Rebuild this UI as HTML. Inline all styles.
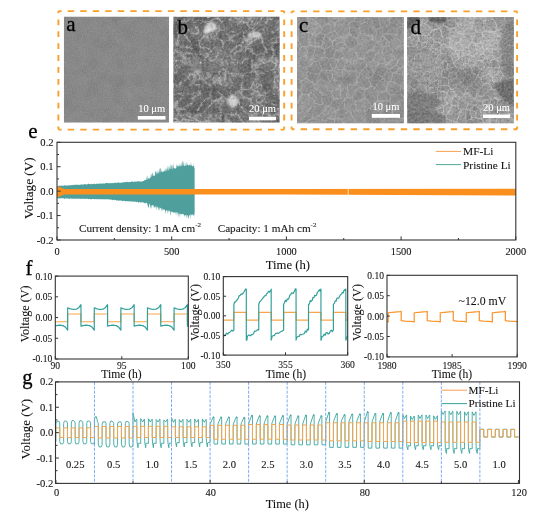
<!DOCTYPE html>
<html><head><meta charset="utf-8"><style>
html,body{margin:0;padding:0;background:#fff;overflow:hidden;}
svg{display:block;font-family:"Liberation Serif", "Times New Roman", serif;}
text{stroke:currentColor;stroke-width:0.08px;paint-order:stroke;stroke-linejoin:round;}
</style></head><body>
<svg width="550" height="518" viewBox="0 0 550 518">
<defs><clipPath id="clipa"><rect x="63.8" y="16.5" width="105.3" height="106.2"/></clipPath><clipPath id="clipb"><rect x="173.2" y="16.5" width="106.6" height="106.2"/></clipPath><clipPath id="clipc"><rect x="297.0" y="17.0" width="106.8" height="106.3"/></clipPath><clipPath id="clipd"><rect x="407.1" y="17.0" width="106.7" height="106.3"/></clipPath><filter id="blur1" x="-50%" y="-50%" width="200%" height="200%"><feGaussianBlur stdDeviation="1"/></filter><filter id="blur2" x="-50%" y="-50%" width="200%" height="200%"><feGaussianBlur stdDeviation="2"/></filter><filter id="blur3" x="-50%" y="-50%" width="200%" height="200%"><feGaussianBlur stdDeviation="3"/></filter><filter id="blur6" x="-50%" y="-50%" width="200%" height="200%"><feGaussianBlur stdDeviation="6"/></filter><filter id="na" x="0" y="0" width="1" height="1" color-interpolation-filters="sRGB"><feTurbulence type="fractalNoise" baseFrequency="0.8" numOctaves="2" seed="3" result="t"/><feColorMatrix in="t" type="matrix" values="0 0 0 0 0  0 0 0 0 0  0 0 0 0 0  -0.64 0 0 0 0.32" result="dark"/><feColorMatrix in="t" type="matrix" values="0 0 0 0 1  0 0 0 0 1  0 0 0 0 1  0.64 0 0 0 -0.32" result="light"/><feMerge><feMergeNode in="dark"/><feMergeNode in="light"/></feMerge></filter><filter id="nb" x="0" y="0" width="1" height="1" color-interpolation-filters="sRGB"><feTurbulence type="fractalNoise" baseFrequency="0.45" numOctaves="3" seed="5" result="t"/><feColorMatrix in="t" type="matrix" values="0 0 0 0 0  0 0 0 0 0  0 0 0 0 0  -1.6 0 0 0 0.8" result="dark"/><feColorMatrix in="t" type="matrix" values="0 0 0 0 1  0 0 0 0 1  0 0 0 0 1  1.6 0 0 0 -0.8" result="light"/><feMerge><feMergeNode in="dark"/><feMergeNode in="light"/></feMerge></filter><filter id="nc" x="0" y="0" width="1" height="1" color-interpolation-filters="sRGB"><feTurbulence type="fractalNoise" baseFrequency="0.5" numOctaves="3" seed="9" result="t"/><feColorMatrix in="t" type="matrix" values="0 0 0 0 0  0 0 0 0 0  0 0 0 0 0  -1.04 0 0 0 0.52" result="dark"/><feColorMatrix in="t" type="matrix" values="0 0 0 0 1  0 0 0 0 1  0 0 0 0 1  1.04 0 0 0 -0.52" result="light"/><feMerge><feMergeNode in="dark"/><feMergeNode in="light"/></feMerge></filter><filter id="nd" x="0" y="0" width="1" height="1" color-interpolation-filters="sRGB"><feTurbulence type="fractalNoise" baseFrequency="0.45" numOctaves="3" seed="11" result="t"/><feColorMatrix in="t" type="matrix" values="0 0 0 0 0  0 0 0 0 0  0 0 0 0 0  -1.2 0 0 0 0.6" result="dark"/><feColorMatrix in="t" type="matrix" values="0 0 0 0 1  0 0 0 0 1  0 0 0 0 1  1.2 0 0 0 -0.6" result="light"/><feMerge><feMergeNode in="dark"/><feMergeNode in="light"/></feMerge></filter><filter id="vb" x="0" y="0" width="1" height="1" color-interpolation-filters="sRGB"><feTurbulence type="turbulence" baseFrequency="0.095" numOctaves="3" seed="21" result="t0"/><feTurbulence type="fractalNoise" baseFrequency="0.043" numOctaves="2" seed="28" result="dm"/><feDisplacementMap in="t0" in2="dm" scale="9" xChannelSelector="R" yChannelSelector="G" result="t"/><feColorMatrix in="t" type="matrix" values="0 0 0 0 1  0 0 0 0 1  0 0 0 0 1  -2.8 0 0 0 1" result="l"/><feComponentTransfer in="l"><feFuncA type="gamma" amplitude="1" exponent="1.6" offset="0"/></feComponentTransfer></filter><filter id="mb" x="0" y="0" width="1" height="1" color-interpolation-filters="sRGB"><feTurbulence type="fractalNoise" baseFrequency="0.07" numOctaves="3" seed="31" result="t"/><feColorMatrix in="t" type="matrix" values="0 0 0 0 0  0 0 0 0 0  0 0 0 0 0  -2.0 0 0 0 1.0" result="dark"/><feColorMatrix in="t" type="matrix" values="0 0 0 0 1  0 0 0 0 1  0 0 0 0 1  2.0 0 0 0 -1.0" result="light"/><feMerge><feMergeNode in="dark"/><feMergeNode in="light"/></feMerge></filter><filter id="mc" x="0" y="0" width="1" height="1" color-interpolation-filters="sRGB"><feTurbulence type="fractalNoise" baseFrequency="0.06" numOctaves="3" seed="33" result="t"/><feColorMatrix in="t" type="matrix" values="0 0 0 0 0  0 0 0 0 0  0 0 0 0 0  -1.2 0 0 0 0.6" result="dark"/><feColorMatrix in="t" type="matrix" values="0 0 0 0 1  0 0 0 0 1  0 0 0 0 1  1.2 0 0 0 -0.6" result="light"/><feMerge><feMergeNode in="dark"/><feMergeNode in="light"/></feMerge></filter><filter id="md" x="0" y="0" width="1" height="1" color-interpolation-filters="sRGB"><feTurbulence type="fractalNoise" baseFrequency="0.05" numOctaves="3" seed="35" result="t"/><feColorMatrix in="t" type="matrix" values="0 0 0 0 0  0 0 0 0 0  0 0 0 0 0  -1.6 0 0 0 0.8" result="dark"/><feColorMatrix in="t" type="matrix" values="0 0 0 0 1  0 0 0 0 1  0 0 0 0 1  1.6 0 0 0 -0.8" result="light"/><feMerge><feMergeNode in="dark"/><feMergeNode in="light"/></feMerge></filter><filter id="ma" x="0" y="0" width="1" height="1" color-interpolation-filters="sRGB"><feTurbulence type="fractalNoise" baseFrequency="0.08" numOctaves="3" seed="37" result="t"/><feColorMatrix in="t" type="matrix" values="0 0 0 0 0  0 0 0 0 0  0 0 0 0 0  -0.8 0 0 0 0.4" result="dark"/><feColorMatrix in="t" type="matrix" values="0 0 0 0 1  0 0 0 0 1  0 0 0 0 1  0.8 0 0 0 -0.4" result="light"/><feMerge><feMergeNode in="dark"/><feMergeNode in="light"/></feMerge></filter><filter id="vc" x="0" y="0" width="1" height="1" color-interpolation-filters="sRGB"><feTurbulence type="turbulence" baseFrequency="0.083" numOctaves="2" seed="9" result="t0"/><feTurbulence type="fractalNoise" baseFrequency="0.043" numOctaves="2" seed="16" result="dm"/><feDisplacementMap in="t0" in2="dm" scale="9" xChannelSelector="R" yChannelSelector="G" result="t"/><feColorMatrix in="t" type="matrix" values="0 0 0 0 1  0 0 0 0 1  0 0 0 0 1  -3.0 0 0 0 1" result="l"/><feComponentTransfer in="l"><feFuncA type="gamma" amplitude="1" exponent="1.8" offset="0"/></feComponentTransfer></filter><filter id="vd" x="0" y="0" width="1" height="1" color-interpolation-filters="sRGB"><feTurbulence type="turbulence" baseFrequency="0.117" numOctaves="3" seed="13" result="t0"/><feTurbulence type="fractalNoise" baseFrequency="0.043" numOctaves="2" seed="20" result="dm"/><feDisplacementMap in="t0" in2="dm" scale="9" xChannelSelector="R" yChannelSelector="G" result="t"/><feColorMatrix in="t" type="matrix" values="0 0 0 0 1  0 0 0 0 1  0 0 0 0 1  -2.8 0 0 0 1" result="l"/><feComponentTransfer in="l"><feFuncA type="gamma" amplitude="1" exponent="1.9" offset="0"/></feComponentTransfer></filter><filter id="blur05" x="-5%" y="-5%" width="110%" height="110%"><feTurbulence type="fractalNoise" baseFrequency="0.09" numOctaves="2" seed="3" result="n"/><feDisplacementMap in="SourceGraphic" in2="n" scale="5" xChannelSelector="R" yChannelSelector="G" result="d"/><feGaussianBlur in="d" stdDeviation="0.6"/></filter><clipPath id="cf1"><rect x="55.3" y="276.1" width="133.0" height="82.89999999999998"/></clipPath><clipPath id="cf2"><rect x="223.3" y="276.6" width="124.39999999999998" height="78.5"/></clipPath><clipPath id="cf3"><rect x="387.0" y="275.3" width="130.20000000000005" height="81.59999999999997"/></clipPath><clipPath id="cg"><rect x="55.5" y="381.9" width="464.0" height="101.5"/></clipPath></defs>
<g clip-path="url(#clipa)">
<rect x="63.8" y="16.5" width="105.3" height="106.2" fill="#898989"/>

<rect x="63.8" y="16.5" width="105.3" height="106.2" filter="url(#ma)" opacity="0.15"/>

<rect x="63.8" y="16.5" width="105.3" height="106.2" filter="url(#na)" opacity="0.35"/>
</g>
<g clip-path="url(#clipb)">
<rect x="173.2" y="16.5" width="106.6" height="106.2" fill="#6e6e6e"/>

<rect x="173.2" y="16.5" width="106.6" height="106.2" filter="url(#mb)" opacity="0.25"/>
<rect x="173.2" y="16.5" width="106.6" height="106.2" filter="url(#vb)" opacity="0.5"/>
<ellipse cx="211" cy="27" rx="6" ry="5" fill="#e8e8e8" opacity="0.8" filter="url(#blur1)"/><ellipse cx="207" cy="31" rx="3" ry="3" fill="#ffffff" opacity="0.6" filter="url(#blur1)"/><ellipse cx="254" cy="35" rx="7" ry="3.5" fill="#e4e4e4" opacity="0.75" filter="url(#blur1)"/><ellipse cx="248" cy="40" rx="4" ry="2.5" fill="#dddddd" opacity="0.6" filter="url(#blur1)"/><ellipse cx="233" cy="101" rx="5.5" ry="6" fill="#e8e8e8" opacity="0.8" filter="url(#blur1)"/><ellipse cx="198" cy="72" rx="4" ry="3" fill="#d0d0d0" opacity="0.5" filter="url(#blur1)"/><ellipse cx="262" cy="60" rx="4" ry="3" fill="#d0d0d0" opacity="0.45" filter="url(#blur1)"/><ellipse cx="222" cy="62" rx="14" ry="10" fill="#a8a8a8" opacity="0.3" filter="url(#blur3)"/><ellipse cx="190" cy="95" rx="12" ry="14" fill="#505050" opacity="0.25" filter="url(#blur6)"/>
<rect x="173.2" y="16.5" width="106.6" height="106.2" filter="url(#nb)" opacity="0.32"/>
</g>
<g clip-path="url(#clipc)">
<rect x="297" y="17" width="106.8" height="106.3" fill="#8e8e8e"/>
<g filter="url(#blur05)"><path d="M391.76 54.51 L384.61 55.44 L383.52 63.18 L385.97 65.29 L394.45 58.69Z" fill="#949494" stroke="#a8a8a8" stroke-width="0.8" stroke-linejoin="round"/><path d="M386.6 90.12 L388.57 82.05 L391.22 81.22 L401.08 84.98 L400.28 90.6 L390.97 94.57Z" fill="#909090" stroke="#a8a8a8" stroke-width="0.8" stroke-linejoin="round"/><path d="M348.17 112.95 L351.93 113.12 L355.76 109.78 L355.3 101.22 L352.27 97.95 L348.37 97.08 L344.12 98.57 L343.16 107.66Z" fill="#949494" stroke="#a8a8a8" stroke-width="0.8" stroke-linejoin="round"/><path d="M310.81 132.5 L284.03 184.68 L280.25 201.54 L295.16 207.37 L322.06 139.26 L317.51 135.65Z" fill="#8e8e8e" stroke="#a8a8a8" stroke-width="0.8" stroke-linejoin="round"/><path d="M281.58 70.83 L287.77 61.8 L287.69 60.04 L279.35 39.1 L235.48 48.71 L277.33 74.1Z" fill="#939393" stroke="#a8a8a8" stroke-width="0.8" stroke-linejoin="round"/><path d="M338.44 88.52 L343.29 98.16 L333.35 99.47 L330.01 91.6Z" fill="#909090" stroke="#a8a8a8" stroke-width="0.8" stroke-linejoin="round"/><path d="M344.8 55.67 L351.31 49.21 L344.6 44.19 L340.54 50.89Z" fill="#909090" stroke="#a8a8a8" stroke-width="0.8" stroke-linejoin="round"/><path d="M282.17 116.68 L193.53 180.44 L206.98 96.08 L270.97 96.43Z" fill="#949494" stroke="#a8a8a8" stroke-width="0.8" stroke-linejoin="round"/><path d="M282.53 11.23 L228.92 9.89 L229.68 47.51 L235.48 48.71 L279.35 39.1 L283.31 32.07Z" fill="#8e8e8e" stroke="#a8a8a8" stroke-width="0.8" stroke-linejoin="round"/><path d="M479.87 214.8 L698.12 241.62 L689.24 86.83 L544.56 46.99 L489.33 113.07Z" fill="#919191" stroke="#a8a8a8" stroke-width="0.8" stroke-linejoin="round"/><path d="M360.64 73.47 L368.79 78.95 L375.51 73.04 L374.75 70.45 L366.42 66.58Z" fill="#8e8e8e" stroke="#a8a8a8" stroke-width="0.8" stroke-linejoin="round"/><path d="M309.97 94.31 L314.01 103.86 L321.65 103.27 L322.83 93.02 L314 90.27Z" fill="#8f8f8f" stroke="#a8a8a8" stroke-width="0.8" stroke-linejoin="round"/><path d="M332.69 78.05 L341.12 82.45 L343.18 81.78 L342.4 68.91 L337.19 67.69 L332.45 69.63 L331.55 70.77Z" fill="#939393" stroke="#a8a8a8" stroke-width="0.8" stroke-linejoin="round"/><path d="M418.34 43.27 L421.06 18.49 L515.69 26.62 L430.75 56.95Z" fill="#909090" stroke="#a8a8a8" stroke-width="0.8" stroke-linejoin="round"/><path d="M404.92 67.76 L401.95 76.1 L396.88 72.87 L398.58 67.25Z" fill="#939393" stroke="#a8a8a8" stroke-width="0.8" stroke-linejoin="round"/><path d="M486.43 -76.41 L455.84 -142.2 L323.91 -113.27 L366.46 -64.39 L437.42 -56.67Z" fill="#8d8d8d" stroke="#a8a8a8" stroke-width="0.8" stroke-linejoin="round"/><path d="M331.47 22.02 L335.04 23.31 L344 19.44 L337.75 -14.25 L330.47 -13.07 L325.03 11.46Z" fill="#949494" stroke="#a8a8a8" stroke-width="0.8" stroke-linejoin="round"/><path d="M355.53 83.74 L358.85 73.68 L355.73 71.39 L351.9 72.14 L343.75 81.85 L348.5 84.51Z" fill="#949494" stroke="#a8a8a8" stroke-width="0.8" stroke-linejoin="round"/><path d="M366.42 66.58 L366.29 61.76 L374.69 60.08 L377.81 63.66 L374.75 70.45Z" fill="#929292" stroke="#a8a8a8" stroke-width="0.8" stroke-linejoin="round"/><path d="M289.74 120.13 L287.39 118.41 L282.17 116.68 L193.53 180.44 L193.07 181.67 L200.18 193.81 L280.25 201.54 L284.03 184.68Z" fill="#8e8e8e" stroke="#a8a8a8" stroke-width="0.8" stroke-linejoin="round"/><path d="M323.91 -113.27 L455.84 -142.2 L448.96 -293.5 L311.94 -285.09 L293.33 -129.02Z" fill="#929292" stroke="#a8a8a8" stroke-width="0.8" stroke-linejoin="round"/><path d="M322.03 70.03 L331.55 70.77 L332.69 78.05 L326.5 83.29 L319.95 80 L319.15 73.88Z" fill="#8e8e8e" stroke="#a8a8a8" stroke-width="0.8" stroke-linejoin="round"/><path d="M398.58 67.25 L396.59 64.81 L389.24 69.4 L392.98 73.44 L396.88 72.87Z" fill="#8f8f8f" stroke="#a8a8a8" stroke-width="0.8" stroke-linejoin="round"/><path d="M300.55 90.69 L276.17 82.82 L277.33 74.1 L281.58 70.83 L302.92 80.81Z" fill="#8d8d8d" stroke="#a8a8a8" stroke-width="0.8" stroke-linejoin="round"/><path d="M378.44 91.25 L375.27 87.48 L369.76 86.1 L365.15 89.49 L366.02 98.57 L372.3 105.13 L373.24 105.14 L377.37 100.93Z" fill="#8d8d8d" stroke="#a8a8a8" stroke-width="0.8" stroke-linejoin="round"/><path d="M401.95 76.1 L404.35 81.85 L401.08 84.98 L391.22 81.22 L392.98 73.44 L396.88 72.87Z" fill="#8e8e8e" stroke="#a8a8a8" stroke-width="0.8" stroke-linejoin="round"/><path d="M319.15 73.88 L308.66 72.39 L306 79.45 L313.79 84.71 L319.95 80Z" fill="#8e8e8e" stroke="#a8a8a8" stroke-width="0.8" stroke-linejoin="round"/><path d="M404.92 67.76 L407.07 66.36 L403.19 57.71 L396.57 59.78 L396.59 64.81 L398.58 67.25Z" fill="#939393" stroke="#a8a8a8" stroke-width="0.8" stroke-linejoin="round"/><path d="M400.28 90.6 L405.05 97.47 L429.95 108.37 L440.36 102.66 L427.97 78.86 L404.35 81.85 L401.08 84.98Z" fill="#8e8e8e" stroke="#a8a8a8" stroke-width="0.8" stroke-linejoin="round"/><path d="M229.68 47.51 L228.92 9.89 L187.08 -73.65 L174.88 -74.74 L148.15 -53.22 L126.99 38.27 L204.36 81.37Z" fill="#939393" stroke="#a8a8a8" stroke-width="0.8" stroke-linejoin="round"/><path d="M368.79 78.95 L369.76 86.1 L375.27 87.48 L382.32 78.52 L381.32 75.69 L375.51 73.04Z" fill="#8d8d8d" stroke="#a8a8a8" stroke-width="0.8" stroke-linejoin="round"/><path d="M193.53 180.44 L206.98 96.08 L204.36 81.37 L126.99 38.27 L16.94 134.48 L193.07 181.67Z" fill="#8d8d8d" stroke="#a8a8a8" stroke-width="0.8" stroke-linejoin="round"/><path d="M361.43 32.77 L356.44 38.14 L348.47 34.79 L348.47 21.48 L353.11 20.48 L360.64 23.75Z" fill="#8d8d8d" stroke="#a8a8a8" stroke-width="0.8" stroke-linejoin="round"/><path d="M375.98 397.48 L628.95 557.33 L350.4 3579.65 L64.39 517.92 L158.53 453.83Z" fill="#949494" stroke="#a8a8a8" stroke-width="0.8" stroke-linejoin="round"/><path d="M301.95 93.96 L287.39 118.41 L289.74 120.13 L299.54 122.04 L314.01 103.86 L309.97 94.31Z" fill="#939393" stroke="#a8a8a8" stroke-width="0.8" stroke-linejoin="round"/><path d="M322.06 139.26 L330.49 140.24 L337.44 143.47 L347.06 205.54 L339.87 233.04 L295.16 207.37Z" fill="#8d8d8d" stroke="#a8a8a8" stroke-width="0.8" stroke-linejoin="round"/><path d="M389.33 45.14 L389.71 41.97 L396.41 36.28 L408.59 44.94 L393.35 49.21Z" fill="#949494" stroke="#a8a8a8" stroke-width="0.8" stroke-linejoin="round"/><path d="M322.03 70.03 L318.91 61.46 L324.83 56.84 L328.39 57.91 L332.45 69.63 L331.55 70.77Z" fill="#8e8e8e" stroke="#a8a8a8" stroke-width="0.8" stroke-linejoin="round"/><path d="M306.71 32.7 L297.81 36.52 L300.64 45.84 L305.93 47.15 L309.45 45.46Z" fill="#8f8f8f" stroke="#a8a8a8" stroke-width="0.8" stroke-linejoin="round"/><path d="M363.2 -13 L383.13 -5.24 L414.01 -9.94 L437.42 -56.67 L366.46 -64.39 L354.71 -22.81Z" fill="#919191" stroke="#a8a8a8" stroke-width="0.8" stroke-linejoin="round"/><path d="M80.65 -432.77 L350.4 -3024.29 L641.19 -408.2 L448.96 -293.5 L311.94 -285.09Z" fill="#8e8e8e" stroke="#a8a8a8" stroke-width="0.8" stroke-linejoin="round"/><path d="M389.33 45.14 L389.71 41.97 L383.61 36.38 L377.97 41.22 L383.17 47.17Z" fill="#949494" stroke="#a8a8a8" stroke-width="0.8" stroke-linejoin="round"/><path d="M321.65 103.27 L325.6 106.28 L323.42 113.88 L301.41 123.13 L299.54 122.04 L314.01 103.86Z" fill="#8f8f8f" stroke="#a8a8a8" stroke-width="0.8" stroke-linejoin="round"/><path d="M325.95 36.53 L320.75 32.13 L321.57 27.73 L331.47 22.02 L335.04 23.31 L334.96 29.91 L326.88 36.61Z" fill="#919191" stroke="#a8a8a8" stroke-width="0.8" stroke-linejoin="round"/><path d="M378.44 91.25 L386.6 90.12 L390.97 94.57 L389.64 101.05 L377.37 100.93Z" fill="#919191" stroke="#a8a8a8" stroke-width="0.8" stroke-linejoin="round"/><path d="M343.86 42.34 L344.6 44.19 L351.31 49.21 L354.33 49.15 L358.01 43.93 L356.44 38.14 L348.47 34.79 L344.13 37.86Z" fill="#8f8f8f" stroke="#a8a8a8" stroke-width="0.8" stroke-linejoin="round"/><path d="M353.11 20.48 L363.21 -3.11 L363.2 -13 L354.71 -22.81 L337.75 -14.25 L344 19.44 L348.47 21.48Z" fill="#929292" stroke="#a8a8a8" stroke-width="0.8" stroke-linejoin="round"/><path d="M320.75 32.13 L315.9 34.53 L306.94 32.46 L306.89 18.01 L313.36 18.48 L321.57 27.73Z" fill="#949494" stroke="#a8a8a8" stroke-width="0.8" stroke-linejoin="round"/><path d="M300.55 90.69 L276.17 82.82 L270.97 96.43 L282.17 116.68 L287.39 118.41 L301.95 93.96Z" fill="#919191" stroke="#a8a8a8" stroke-width="0.8" stroke-linejoin="round"/><path d="M404.92 67.76 L407.07 66.36 L427.38 71.19 L427.97 78.86 L404.35 81.85 L401.95 76.1Z" fill="#8d8d8d" stroke="#a8a8a8" stroke-width="0.8" stroke-linejoin="round"/><path d="M302.92 80.81 L281.58 70.83 L287.77 61.8 L288.67 61.85 L307.6 69.31 L308.66 72.39 L306 79.45Z" fill="#939393" stroke="#a8a8a8" stroke-width="0.8" stroke-linejoin="round"/><path d="M394.45 58.69 L396.57 59.78 L396.59 64.81 L389.24 69.4 L387.27 68.72 L385.97 65.29Z" fill="#929292" stroke="#a8a8a8" stroke-width="0.8" stroke-linejoin="round"/><path d="M332.26 41.67 L339.18 36.02 L344.13 37.86 L343.86 42.34 L333.38 46.23 L332.7 45.72Z" fill="#909090" stroke="#a8a8a8" stroke-width="0.8" stroke-linejoin="round"/><path d="M427.38 71.19 L430.75 56.95 L515.69 26.62 L527.56 24.98 L544.56 46.99 L489.33 113.07 L440.36 102.66 L427.97 78.86Z" fill="#929292" stroke="#a8a8a8" stroke-width="0.8" stroke-linejoin="round"/><path d="M334.97 119.43 L330.49 140.24 L337.44 143.47 L350.26 136.3 L341.97 120.16Z" fill="#8f8f8f" stroke="#a8a8a8" stroke-width="0.8" stroke-linejoin="round"/><path d="M395.63 33.95 L396.04 30.6 L413.41 14.29 L416.7 12.94 L421.06 18.49 L418.34 43.27 L410.27 45.32 L408.59 44.94 L396.41 36.28Z" fill="#8f8f8f" stroke="#a8a8a8" stroke-width="0.8" stroke-linejoin="round"/><path d="M352.27 97.95 L355.3 101.22 L366.02 98.57 L365.15 89.49 L359.6 88.28Z" fill="#919191" stroke="#a8a8a8" stroke-width="0.8" stroke-linejoin="round"/><path d="M325.95 36.53 L320.75 32.13 L315.9 34.53 L316.06 46.08 L321.1 46.95Z" fill="#8d8d8d" stroke="#a8a8a8" stroke-width="0.8" stroke-linejoin="round"/><path d="M370.9 35.93 L371.51 38.01 L376.32 41.18 L377.97 41.22 L383.61 36.38 L384.13 33.72 L382.45 28.7 L380.74 27.78 L373.6 30.06Z" fill="#919191" stroke="#a8a8a8" stroke-width="0.8" stroke-linejoin="round"/><path d="M371.51 38.01 L364.68 45.11 L368.11 50.95 L372.9 51.15 L376.32 41.18Z" fill="#8e8e8e" stroke="#a8a8a8" stroke-width="0.8" stroke-linejoin="round"/><path d="M373.6 30.06 L380.74 27.78 L378.88 17.27 L370.14 16.69 L366.93 21.47Z" fill="#8f8f8f" stroke="#a8a8a8" stroke-width="0.8" stroke-linejoin="round"/><path d="M341.97 120.16 L350.26 136.3 L360.34 134.86 L351.93 113.12 L348.17 112.95Z" fill="#949494" stroke="#a8a8a8" stroke-width="0.8" stroke-linejoin="round"/><path d="M321.1 46.95 L316.06 46.08 L315.59 46.3 L312.4 58.65 L313.65 60.42 L318.91 61.46 L324.83 56.84 L323.59 49.11Z" fill="#919191" stroke="#a8a8a8" stroke-width="0.8" stroke-linejoin="round"/><path d="M370.9 35.93 L361.43 32.77 L360.64 23.75 L366.93 21.47 L373.6 30.06Z" fill="#8e8e8e" stroke="#a8a8a8" stroke-width="0.8" stroke-linejoin="round"/><path d="M255.95 -97.27 L187.08 -73.65 L174.88 -74.74 L37.36 -374.61 L80.65 -432.77 L311.94 -285.09 L293.33 -129.02Z" fill="#929292" stroke="#a8a8a8" stroke-width="0.8" stroke-linejoin="round"/><path d="M370.14 16.69 L378.88 17.27 L384.42 12.73 L383.13 -5.24 L363.2 -13 L363.21 -3.11Z" fill="#949494" stroke="#a8a8a8" stroke-width="0.8" stroke-linejoin="round"/><path d="M370.9 35.93 L371.51 38.01 L364.68 45.11 L358.01 43.93 L356.44 38.14 L361.43 32.77Z" fill="#949494" stroke="#a8a8a8" stroke-width="0.8" stroke-linejoin="round"/><path d="M338.14 59.5 L337.19 67.69 L332.45 69.63 L328.39 57.91 L333.66 56.06Z" fill="#939393" stroke="#a8a8a8" stroke-width="0.8" stroke-linejoin="round"/><path d="M378.44 91.25 L375.27 87.48 L382.32 78.52 L388.57 82.05 L386.6 90.12Z" fill="#8f8f8f" stroke="#a8a8a8" stroke-width="0.8" stroke-linejoin="round"/><path d="M280.25 201.54 L200.18 193.81 L158.53 453.83 L375.98 397.48 L389.38 304.76 L339.87 233.04 L295.16 207.37Z" fill="#919191" stroke="#a8a8a8" stroke-width="0.8" stroke-linejoin="round"/><path d="M334.97 119.43 L341.97 120.16 L348.17 112.95 L343.16 107.66 L334.97 109.65 L334.88 119.33Z" fill="#919191" stroke="#a8a8a8" stroke-width="0.8" stroke-linejoin="round"/><path d="M383.61 36.38 L389.71 41.97 L396.41 36.28 L395.63 33.95 L384.13 33.72Z" fill="#8d8d8d" stroke="#a8a8a8" stroke-width="0.8" stroke-linejoin="round"/><path d="M332.69 78.05 L341.12 82.45 L338.44 88.52 L330.01 91.6 L327.15 90.31 L326.5 83.29Z" fill="#929292" stroke="#a8a8a8" stroke-width="0.8" stroke-linejoin="round"/><path d="M379.23 149.14 L410.06 151.79 L468.71 220.86 L389.38 304.76 L339.87 233.04 L347.06 205.54Z" fill="#919191" stroke="#a8a8a8" stroke-width="0.8" stroke-linejoin="round"/><path d="M360.64 23.75 L353.11 20.48 L363.21 -3.11 L370.14 16.69 L366.93 21.47Z" fill="#919191" stroke="#a8a8a8" stroke-width="0.8" stroke-linejoin="round"/><path d="M429.95 108.37 L440.36 102.66 L489.33 113.07 L479.87 214.8 L468.71 220.86 L410.06 151.79 L416.27 122.52Z" fill="#929292" stroke="#a8a8a8" stroke-width="0.8" stroke-linejoin="round"/><path d="M689.24 86.83 L865.43 -178.19 L3439.04 70.15 L773.85 387.79 L698.12 241.62Z" fill="#8d8d8d" stroke="#a8a8a8" stroke-width="0.8" stroke-linejoin="round"/><path d="M377.37 100.93 L373.24 105.14 L384.47 119.32 L393.58 114.85 L393.13 106.72 L389.64 101.05Z" fill="#8e8e8e" stroke="#a8a8a8" stroke-width="0.8" stroke-linejoin="round"/><path d="M391.76 54.51 L393.35 49.21 L389.33 45.14 L383.17 47.17 L381.64 52.53 L384.61 55.44Z" fill="#949494" stroke="#a8a8a8" stroke-width="0.8" stroke-linejoin="round"/><path d="M300.55 90.69 L302.92 80.81 L306 79.45 L313.79 84.71 L314 90.27 L309.97 94.31 L301.95 93.96Z" fill="#8f8f8f" stroke="#a8a8a8" stroke-width="0.8" stroke-linejoin="round"/><path d="M375.51 73.04 L381.32 75.69 L387.27 68.72 L385.97 65.29 L383.52 63.18 L377.81 63.66 L374.75 70.45Z" fill="#8f8f8f" stroke="#a8a8a8" stroke-width="0.8" stroke-linejoin="round"/><path d="M389.25 25.36 L391.25 16.92 L413.41 14.29 L396.04 30.6Z" fill="#8d8d8d" stroke="#a8a8a8" stroke-width="0.8" stroke-linejoin="round"/><path d="M334.97 109.65 L329.94 105.65 L333.35 99.47 L343.29 98.16 L344.12 98.57 L343.16 107.66Z" fill="#8f8f8f" stroke="#a8a8a8" stroke-width="0.8" stroke-linejoin="round"/><path d="M360.34 134.86 L367.24 136.2 L365.4 111.24 L355.76 109.78 L351.93 113.12Z" fill="#919191" stroke="#a8a8a8" stroke-width="0.8" stroke-linejoin="round"/><path d="M343.2 68.58 L347.63 61.25 L354.15 62.01 L355.73 71.39 L351.9 72.14Z" fill="#8d8d8d" stroke="#a8a8a8" stroke-width="0.8" stroke-linejoin="round"/><path d="M403.19 57.71 L410.27 45.32 L418.34 43.27 L430.75 56.95 L427.38 71.19 L407.07 66.36Z" fill="#8f8f8f" stroke="#a8a8a8" stroke-width="0.8" stroke-linejoin="round"/><path d="M334.97 119.43 L330.49 140.24 L322.06 139.26 L317.51 135.65 L327.55 118.59 L334.88 119.33Z" fill="#8f8f8f" stroke="#a8a8a8" stroke-width="0.8" stroke-linejoin="round"/><path d="M344.8 55.67 L340.54 50.89 L335.66 50.74 L333.66 56.06 L338.14 59.5 L344.63 57.38Z" fill="#8e8e8e" stroke="#a8a8a8" stroke-width="0.8" stroke-linejoin="round"/><path d="M193.07 181.67 L16.94 134.48 L-1.3 138.04 L-150.66 340.16 L64.39 517.92 L158.53 453.83 L200.18 193.81Z" fill="#939393" stroke="#a8a8a8" stroke-width="0.8" stroke-linejoin="round"/><path d="M344.63 57.38 L347.63 61.25 L343.2 68.58 L342.4 68.91 L337.19 67.69 L338.14 59.5Z" fill="#949494" stroke="#a8a8a8" stroke-width="0.8" stroke-linejoin="round"/><path d="M368.11 50.95 L363.24 58.19 L358.1 57.71 L354.33 49.15 L358.01 43.93 L364.68 45.11Z" fill="#949494" stroke="#a8a8a8" stroke-width="0.8" stroke-linejoin="round"/><path d="M391.76 54.51 L393.35 49.21 L408.59 44.94 L410.27 45.32 L403.19 57.71 L396.57 59.78 L394.45 58.69Z" fill="#909090" stroke="#a8a8a8" stroke-width="0.8" stroke-linejoin="round"/><path d="M486.43 -76.41 L455.84 -142.2 L448.96 -293.5 L641.19 -408.2 L793.56 -229.04 L500.09 -69.26Z" fill="#8d8d8d" stroke="#a8a8a8" stroke-width="0.8" stroke-linejoin="round"/><path d="M325.95 36.53 L321.1 46.95 L323.59 49.11 L332.7 45.72 L332.26 41.67 L326.88 36.61Z" fill="#8f8f8f" stroke="#a8a8a8" stroke-width="0.8" stroke-linejoin="round"/><path d="M500.09 -69.26 L793.56 -229.04 L865.43 -178.19 L689.24 86.83 L544.56 46.99 L527.56 24.98Z" fill="#919191" stroke="#a8a8a8" stroke-width="0.8" stroke-linejoin="round"/><path d="M313.36 18.48 L325.03 11.46 L330.47 -13.07 L298.96 -19.52 L290.77 3.86 L306.89 18.01Z" fill="#909090" stroke="#a8a8a8" stroke-width="0.8" stroke-linejoin="round"/><path d="M381.32 75.69 L387.27 68.72 L389.24 69.4 L392.98 73.44 L391.22 81.22 L388.57 82.05 L382.32 78.52Z" fill="#929292" stroke="#a8a8a8" stroke-width="0.8" stroke-linejoin="round"/><path d="M312.4 58.65 L313.65 60.42 L307.6 69.31 L288.67 61.85 L306.63 56.28Z" fill="#929292" stroke="#a8a8a8" stroke-width="0.8" stroke-linejoin="round"/><path d="M337.75 -14.25 L330.47 -13.07 L298.96 -19.52 L255.95 -97.27 L293.33 -129.02 L323.91 -113.27 L366.46 -64.39 L354.71 -22.81Z" fill="#949494" stroke="#a8a8a8" stroke-width="0.8" stroke-linejoin="round"/><path d="M306.94 32.46 L306.71 32.7 L297.81 36.52 L283.31 32.07 L282.53 11.23 L290.77 3.86 L306.89 18.01Z" fill="#909090" stroke="#a8a8a8" stroke-width="0.8" stroke-linejoin="round"/><path d="M416.27 122.52 L410.06 151.79 L379.23 149.14 L373.85 139.72 L384.47 119.32 L393.58 114.85Z" fill="#8e8e8e" stroke="#a8a8a8" stroke-width="0.8" stroke-linejoin="round"/><path d="M389.25 25.36 L382.45 28.7 L380.74 27.78 L378.88 17.27 L384.42 12.73 L391.25 16.92Z" fill="#949494" stroke="#a8a8a8" stroke-width="0.8" stroke-linejoin="round"/><path d="M306.63 56.28 L288.67 61.85 L287.77 61.8 L287.69 60.04 L300.64 45.84 L305.93 47.15Z" fill="#949494" stroke="#a8a8a8" stroke-width="0.8" stroke-linejoin="round"/><path d="M350.26 136.3 L337.44 143.47 L347.06 205.54 L379.23 149.14 L373.85 139.72 L367.24 136.2 L360.34 134.86Z" fill="#8e8e8e" stroke="#a8a8a8" stroke-width="0.8" stroke-linejoin="round"/><path d="M321.57 27.73 L331.47 22.02 L325.03 11.46 L313.36 18.48Z" fill="#8e8e8e" stroke="#a8a8a8" stroke-width="0.8" stroke-linejoin="round"/><path d="M344.8 55.67 L351.31 49.21 L354.33 49.15 L358.1 57.71 L354.15 62.01 L347.63 61.25 L344.63 57.38Z" fill="#929292" stroke="#a8a8a8" stroke-width="0.8" stroke-linejoin="round"/><path d="M372.3 105.13 L365.4 111.24 L355.76 109.78 L355.3 101.22 L366.02 98.57Z" fill="#939393" stroke="#a8a8a8" stroke-width="0.8" stroke-linejoin="round"/><path d="M290.77 3.86 L298.96 -19.52 L255.95 -97.27 L187.08 -73.65 L228.92 9.89 L282.53 11.23Z" fill="#949494" stroke="#a8a8a8" stroke-width="0.8" stroke-linejoin="round"/><path d="M391.25 16.92 L384.42 12.73 L383.13 -5.24 L414.01 -9.94 L416.7 12.94 L413.41 14.29Z" fill="#8d8d8d" stroke="#a8a8a8" stroke-width="0.8" stroke-linejoin="round"/><path d="M310.81 132.5 L301.41 123.13 L323.42 113.88 L327.55 118.59 L317.51 135.65Z" fill="#8e8e8e" stroke="#a8a8a8" stroke-width="0.8" stroke-linejoin="round"/><path d="M348.37 97.08 L344.12 98.57 L343.29 98.16 L338.44 88.52 L341.12 82.45 L343.18 81.78 L343.75 81.85 L348.5 84.51Z" fill="#909090" stroke="#a8a8a8" stroke-width="0.8" stroke-linejoin="round"/><path d="M297.81 36.52 L283.31 32.07 L279.35 39.1 L287.69 60.04 L300.64 45.84Z" fill="#919191" stroke="#a8a8a8" stroke-width="0.8" stroke-linejoin="round"/><path d="M-1.3 138.04 L-150.66 340.16 L-2241.61 70.15 L-176.09 -213.63 L-50.17 -58.91Z" fill="#939393" stroke="#a8a8a8" stroke-width="0.8" stroke-linejoin="round"/><path d="M315.9 34.53 L316.06 46.08 L315.59 46.3 L309.45 45.46 L306.71 32.7 L306.94 32.46Z" fill="#919191" stroke="#a8a8a8" stroke-width="0.8" stroke-linejoin="round"/><path d="M334.88 119.33 L327.55 118.59 L323.42 113.88 L325.6 106.28 L329.94 105.65 L334.97 109.65Z" fill="#919191" stroke="#a8a8a8" stroke-width="0.8" stroke-linejoin="round"/><path d="M468.71 220.86 L389.38 304.76 L375.98 397.48 L628.95 557.33 L773.85 387.79 L698.12 241.62 L479.87 214.8Z" fill="#8e8e8e" stroke="#a8a8a8" stroke-width="0.8" stroke-linejoin="round"/><path d="M421.06 18.49 L416.7 12.94 L414.01 -9.94 L437.42 -56.67 L486.43 -76.41 L500.09 -69.26 L527.56 24.98 L515.69 26.62Z" fill="#929292" stroke="#a8a8a8" stroke-width="0.8" stroke-linejoin="round"/><path d="M343.18 81.78 L342.4 68.91 L343.2 68.58 L351.9 72.14 L343.75 81.85Z" fill="#919191" stroke="#a8a8a8" stroke-width="0.8" stroke-linejoin="round"/><path d="M344.13 37.86 L348.47 34.79 L348.47 21.48 L344 19.44 L335.04 23.31 L334.96 29.91 L339.18 36.02Z" fill="#949494" stroke="#a8a8a8" stroke-width="0.8" stroke-linejoin="round"/><path d="M372.9 51.15 L375.84 53.59 L374.69 60.08 L366.29 61.76 L363.24 58.19 L368.11 50.95Z" fill="#8e8e8e" stroke="#a8a8a8" stroke-width="0.8" stroke-linejoin="round"/><path d="M390.97 94.57 L400.28 90.6 L405.05 97.47 L393.13 106.72 L389.64 101.05Z" fill="#8d8d8d" stroke="#a8a8a8" stroke-width="0.8" stroke-linejoin="round"/><path d="M327.15 90.31 L322.83 93.02 L321.65 103.27 L325.6 106.28 L329.94 105.65 L333.35 99.47 L330.01 91.6Z" fill="#8f8f8f" stroke="#a8a8a8" stroke-width="0.8" stroke-linejoin="round"/><path d="M384.13 33.72 L382.45 28.7 L389.25 25.36 L396.04 30.6 L395.63 33.95Z" fill="#8f8f8f" stroke="#a8a8a8" stroke-width="0.8" stroke-linejoin="round"/><path d="M333.38 46.23 L335.66 50.74 L340.54 50.89 L344.6 44.19 L343.86 42.34Z" fill="#909090" stroke="#a8a8a8" stroke-width="0.8" stroke-linejoin="round"/><path d="M360.64 73.47 L358.85 73.68 L355.73 71.39 L354.15 62.01 L358.1 57.71 L363.24 58.19 L366.29 61.76 L366.42 66.58Z" fill="#8e8e8e" stroke="#a8a8a8" stroke-width="0.8" stroke-linejoin="round"/><path d="M383.52 63.18 L377.81 63.66 L374.69 60.08 L375.84 53.59 L381.64 52.53 L384.61 55.44Z" fill="#929292" stroke="#a8a8a8" stroke-width="0.8" stroke-linejoin="round"/><path d="M348.37 97.08 L348.5 84.51 L355.53 83.74 L359.6 88.28 L352.27 97.95Z" fill="#939393" stroke="#a8a8a8" stroke-width="0.8" stroke-linejoin="round"/><path d="M372.3 105.13 L365.4 111.24 L367.24 136.2 L373.85 139.72 L384.47 119.32 L373.24 105.14Z" fill="#8d8d8d" stroke="#a8a8a8" stroke-width="0.8" stroke-linejoin="round"/><path d="M381.64 52.53 L375.84 53.59 L372.9 51.15 L376.32 41.18 L377.97 41.22 L383.17 47.17Z" fill="#949494" stroke="#a8a8a8" stroke-width="0.8" stroke-linejoin="round"/><path d="M126.99 38.27 L16.94 134.48 L-1.3 138.04 L-50.17 -58.91 L148.15 -53.22Z" fill="#8d8d8d" stroke="#a8a8a8" stroke-width="0.8" stroke-linejoin="round"/><path d="M174.88 -74.74 L37.36 -374.61 L-176.09 -213.63 L-50.17 -58.91 L148.15 -53.22Z" fill="#8f8f8f" stroke="#a8a8a8" stroke-width="0.8" stroke-linejoin="round"/><path d="M315.59 46.3 L312.4 58.65 L306.63 56.28 L305.93 47.15 L309.45 45.46Z" fill="#909090" stroke="#a8a8a8" stroke-width="0.8" stroke-linejoin="round"/><path d="M310.81 132.5 L284.03 184.68 L289.74 120.13 L299.54 122.04 L301.41 123.13Z" fill="#909090" stroke="#a8a8a8" stroke-width="0.8" stroke-linejoin="round"/><path d="M322.03 70.03 L318.91 61.46 L313.65 60.42 L307.6 69.31 L308.66 72.39 L319.15 73.88Z" fill="#8e8e8e" stroke="#a8a8a8" stroke-width="0.8" stroke-linejoin="round"/><path d="M277.33 74.1 L235.48 48.71 L229.68 47.51 L204.36 81.37 L206.98 96.08 L270.97 96.43 L276.17 82.82Z" fill="#929292" stroke="#a8a8a8" stroke-width="0.8" stroke-linejoin="round"/><path d="M319.95 80 L313.79 84.71 L314 90.27 L322.83 93.02 L327.15 90.31 L326.5 83.29Z" fill="#939393" stroke="#a8a8a8" stroke-width="0.8" stroke-linejoin="round"/><path d="M360.64 73.47 L358.85 73.68 L355.53 83.74 L359.6 88.28 L365.15 89.49 L369.76 86.1 L368.79 78.95Z" fill="#8e8e8e" stroke="#a8a8a8" stroke-width="0.8" stroke-linejoin="round"/><path d="M393.13 106.72 L393.58 114.85 L416.27 122.52 L429.95 108.37 L405.05 97.47Z" fill="#8e8e8e" stroke="#a8a8a8" stroke-width="0.8" stroke-linejoin="round"/><path d="M326.88 36.61 L334.96 29.91 L339.18 36.02 L332.26 41.67Z" fill="#919191" stroke="#a8a8a8" stroke-width="0.8" stroke-linejoin="round"/><path d="M323.59 49.11 L324.83 56.84 L328.39 57.91 L333.66 56.06 L335.66 50.74 L333.38 46.23 L332.7 45.72Z" fill="#8e8e8e" stroke="#a8a8a8" stroke-width="0.8" stroke-linejoin="round"/></g>
<rect x="297" y="17" width="106.8" height="106.3" filter="url(#mc)" opacity="0.15"/>
<rect x="297" y="17" width="106.8" height="106.3" filter="url(#vc)" opacity="0.12"/>
<ellipse cx="345" cy="80" rx="7" ry="4" fill="#555" opacity="0.35" filter="url(#blur2)"/>
<rect x="297" y="17" width="106.8" height="106.3" filter="url(#nc)" opacity="0.3"/>
</g>
<g clip-path="url(#clipd)">
<rect x="407.1" y="17" width="106.7" height="106.3" fill="#8e8e8e"/>
<g filter="url(#blur05)"><path d="M437.23 112.59 L444.21 112.73 L442.2 107.69 L437.35 108.67Z" fill="#8a8a8a" stroke="#b8b8b8" stroke-width="0.9" stroke-linejoin="round"/><path d="M900.48 335.34 L621.34 99.8 L630.44 82 L758.59 113.26 L924.79 319.59Z" fill="#8b8b8b" stroke="#b8b8b8" stroke-width="0.9" stroke-linejoin="round"/><path d="M433.31 15.86 L433.91 13.98 L439.45 15.48 L443.79 25.11 L443.31 26.52 L440.05 28.56 L437.38 28.45Z" fill="#999999" stroke="#b8b8b8" stroke-width="0.9" stroke-linejoin="round"/><path d="M509.44 -0.79 L492.74 19.33 L484.9 20.12 L475.47 14.32 L472.83 9.04 L474.27 3.71 L522.68 -24.19Z" fill="#9c9c9c" stroke="#b8b8b8" stroke-width="0.9" stroke-linejoin="round"/><path d="M495.26 33.42 L498.44 36.96 L505.86 38.47 L509.29 34.78 L507.99 29.66 L503.92 26.92 L496.63 29.39 L495.16 33.03Z" fill="#9d9d9d" stroke="#b8b8b8" stroke-width="0.9" stroke-linejoin="round"/><path d="M453.18 89.32 L449.74 87.91 L445.14 93.37 L446.11 96.66 L451.76 97.79 L455.34 95.04Z" fill="#929292" stroke="#b8b8b8" stroke-width="0.9" stroke-linejoin="round"/><path d="M454.27 48.85 L449.64 47.69 L444.83 54.25 L446.2 56.4 L450.14 56.83 L455.7 51.62 L455.75 50.85Z" fill="#989898" stroke="#b8b8b8" stroke-width="0.9" stroke-linejoin="round"/><path d="M444.21 112.73 L448.34 117.17 L452.2 106.96 L450.4 104.9 L445.98 103.91 L442.92 105.73 L442.2 107.69Z" fill="#9a9a9a" stroke="#b8b8b8" stroke-width="0.9" stroke-linejoin="round"/><path d="M388.54 228.27 L275.14 653.85 L460.45 960.01 L560.26 768.23 L549.7 680.93 L425.12 231.96Z" fill="#8b8b8b" stroke="#b8b8b8" stroke-width="0.9" stroke-linejoin="round"/><path d="M466.27 93.47 L467.53 87.3 L462.34 82.47 L453.18 89.32 L455.34 95.04 L461.18 97.82 L462.48 97.45Z" fill="#949494" stroke="#b8b8b8" stroke-width="0.9" stroke-linejoin="round"/><path d="M435.65 61.74 L437.81 64.98 L432.49 70.7 L430.19 71.06 L429.9 70.89 L426.6 63.29 L429.76 60.53Z" fill="#999999" stroke="#b8b8b8" stroke-width="0.9" stroke-linejoin="round"/><path d="M431 112.51 L429.85 110.46 L425.38 109.72 L421.28 115.26 L422.1 120.25 L426.26 125.62 L430.8 119.73Z" fill="#919191" stroke="#b8b8b8" stroke-width="0.9" stroke-linejoin="round"/><path d="M426.11 41.44 L421.75 43.32 L418.65 41.8 L417.67 34.59 L428.1 36.32Z" fill="#939393" stroke="#b8b8b8" stroke-width="0.9" stroke-linejoin="round"/><path d="M429.23 95.31 L430.02 100.46 L424.56 103.85 L421.89 97.57Z" fill="#8a8a8a" stroke="#b8b8b8" stroke-width="0.9" stroke-linejoin="round"/><path d="M471.39 -94.78 L454.76 -112.83 L620.89 -544.67 L736.12 -369.54 L499.97 -85.32Z" fill="#8d8d8d" stroke="#b8b8b8" stroke-width="0.9" stroke-linejoin="round"/><path d="M440.72 41.59 L443.06 37.77 L449.77 37.35 L450.64 41.28 L448.96 46.09 L441.41 43.02Z" fill="#8c8c8c" stroke="#b8b8b8" stroke-width="0.9" stroke-linejoin="round"/><path d="M429.25 95.23 L437.61 92.18 L437.67 92.08 L437.52 88.73 L427.54 86.25 L426.45 87.06 L426.41 90.14Z" fill="#939393" stroke="#b8b8b8" stroke-width="0.9" stroke-linejoin="round"/><path d="M469.88 103.59 L474.93 98.7 L466.27 93.47 L462.48 97.45 L467.83 103.99Z" fill="#9c9c9c" stroke="#b8b8b8" stroke-width="0.9" stroke-linejoin="round"/><path d="M468.27 63.29 L472.48 67.37 L475.74 65.4 L477.07 61.61 L473.49 56.01 L472.29 56.02Z" fill="#969696" stroke="#b8b8b8" stroke-width="0.9" stroke-linejoin="round"/><path d="M475.74 65.4 L481.22 68.29 L477.35 76.45 L477.13 76.47 L472.09 72.91 L472.48 67.37Z" fill="#959595" stroke="#b8b8b8" stroke-width="0.9" stroke-linejoin="round"/><path d="M511.06 102.43 L511.88 102.36 L514.02 93.63 L509.04 91.71 L506.21 92.45Z" fill="#909090" stroke="#b8b8b8" stroke-width="0.9" stroke-linejoin="round"/><path d="M411.76 95.61 L414.9 90.74 L419.31 93.88 L420.22 96.82 L417.08 100.54 L413.17 99.66Z" fill="#8b8b8b" stroke="#b8b8b8" stroke-width="0.9" stroke-linejoin="round"/><path d="M444.62 99.06 L438.64 98.91 L437.49 101.13 L442.92 105.73 L445.98 103.91Z" fill="#939393" stroke="#b8b8b8" stroke-width="0.9" stroke-linejoin="round"/><path d="M437.38 117.69 L444.02 120.72 L435.26 136.13 L427.48 135.8 L426.26 125.62 L430.8 119.73Z" fill="#939393" stroke="#b8b8b8" stroke-width="0.9" stroke-linejoin="round"/><path d="M311.37 -32.54 L368.12 -132.96 L226.75 -438.23 L-43.55 -161.73 L56.36 -109.68 L279.54 -26.31Z" fill="#909090" stroke="#b8b8b8" stroke-width="0.9" stroke-linejoin="round"/><path d="M418.65 41.8 L415.91 45.99 L420.69 50.64 L422.69 48.04 L421.75 43.32Z" fill="#8b8b8b" stroke="#b8b8b8" stroke-width="0.9" stroke-linejoin="round"/><path d="M444.62 99.06 L445.98 103.91 L450.4 104.9 L451.76 97.79 L446.11 96.66Z" fill="#9c9c9c" stroke="#b8b8b8" stroke-width="0.9" stroke-linejoin="round"/><path d="M448.5 118.24 L444.02 120.72 L435.26 136.13 L446.36 141.92 L458.59 124.99 L456.64 122.72Z" fill="#969696" stroke="#b8b8b8" stroke-width="0.9" stroke-linejoin="round"/><path d="M470.97 110.63 L470.75 110.72 L471.26 117.92 L475.12 117.26 L475.4 111.8Z" fill="#959595" stroke="#b8b8b8" stroke-width="0.9" stroke-linejoin="round"/><path d="M463.49 63.87 L461.27 67.95 L458.17 68.73 L455.5 66.49 L453.63 63.06 L454.34 60.26 L458.83 58.09 L460.95 58.64Z" fill="#959595" stroke="#b8b8b8" stroke-width="0.9" stroke-linejoin="round"/><path d="M469.88 103.59 L473.78 106.76 L470.97 110.63 L470.75 110.72 L466.46 109.11 L467.83 103.99Z" fill="#959595" stroke="#b8b8b8" stroke-width="0.9" stroke-linejoin="round"/><path d="M426.45 87.06 L420.39 84.37 L419.63 80.44 L422.95 77.65 L429.01 78.53 L430.2 80.34 L427.54 86.25Z" fill="#959595" stroke="#b8b8b8" stroke-width="0.9" stroke-linejoin="round"/><path d="M417.24 14.94 L387.45 7.3 L416.94 31 L422.5 23.13Z" fill="#979797" stroke="#b8b8b8" stroke-width="0.9" stroke-linejoin="round"/><path d="M436.85 113.11 L437.23 112.59 L444.21 112.73 L448.34 117.17 L448.5 118.24 L444.02 120.72 L437.38 117.69Z" fill="#8f8f8f" stroke="#b8b8b8" stroke-width="0.9" stroke-linejoin="round"/><path d="M403.67 46.85 L415.82 56.03 L413.71 61.81 L401.02 61.26 L364.19 44.79 L395.19 44.28Z" fill="#8d8d8d" stroke="#b8b8b8" stroke-width="0.9" stroke-linejoin="round"/><path d="M433.91 13.98 L430.84 6.88 L431.35 4.31 L444.32 -7.24 L449.75 7.93 L446.98 12.78 L439.45 15.48Z" fill="#959595" stroke="#b8b8b8" stroke-width="0.9" stroke-linejoin="round"/><path d="M462.95 34.06 L455.39 32.19 L452.11 35.38 L459.3 40.46 L463.4 37.4Z" fill="#9a9a9a" stroke="#b8b8b8" stroke-width="0.9" stroke-linejoin="round"/><path d="M483.49 39.33 L482.24 32.56 L484.33 30.96 L495.16 33.03 L495.26 33.42 L488.72 41.33Z" fill="#929292" stroke="#b8b8b8" stroke-width="0.9" stroke-linejoin="round"/><path d="M499.97 -85.32 L736.12 -369.54 L834.77 -248.4 L823.22 -233.61 L542 -48.2Z" fill="#949494" stroke="#b8b8b8" stroke-width="0.9" stroke-linejoin="round"/><path d="M353.44 198.64 L388.54 228.27 L275.14 653.85 L19.78 340.17 L68.92 306.25 L344.38 193.85Z" fill="#8b8b8b" stroke="#b8b8b8" stroke-width="0.9" stroke-linejoin="round"/><path d="M513.32 55.76 L522.68 48.59 L527.01 47.72 L533.05 49.04 L526.46 75.29 L522.54 75.09 L513.39 67.07Z" fill="#949494" stroke="#b8b8b8" stroke-width="0.9" stroke-linejoin="round"/><path d="M492.7 80.48 L492.31 77.02 L488.75 73.46 L481.17 78 L483.43 82.44 L489.53 83.47Z" fill="#909090" stroke="#b8b8b8" stroke-width="0.9" stroke-linejoin="round"/><path d="M758.59 113.26 L702.08 -10.82 L640.11 26.5 L630.44 82Z" fill="#9a9a9a" stroke="#b8b8b8" stroke-width="0.9" stroke-linejoin="round"/><path d="M422.1 120.25 L412.42 120.6 L396.88 158.53 L427.48 135.8 L426.26 125.62Z" fill="#8b8b8b" stroke="#b8b8b8" stroke-width="0.9" stroke-linejoin="round"/><path d="M442.54 69.31 L447.6 69.49 L449.66 72.61 L448.13 78.46 L440.47 76.22Z" fill="#8e8e8e" stroke="#b8b8b8" stroke-width="0.9" stroke-linejoin="round"/><path d="M463.63 55.46 L462.18 49.64 L455.75 50.85 L455.7 51.62 L458.83 58.09 L460.95 58.64Z" fill="#999999" stroke="#b8b8b8" stroke-width="0.9" stroke-linejoin="round"/><path d="M497.69 59.28 L498.8 61.36 L499.38 68.01 L488.99 68.27 L489.75 62.44 L495.91 58.78Z" fill="#8b8b8b" stroke="#b8b8b8" stroke-width="0.9" stroke-linejoin="round"/><path d="M440.72 41.59 L434.61 41.07 L431.98 47.99 L440.15 50 L441.41 43.02Z" fill="#909090" stroke="#b8b8b8" stroke-width="0.9" stroke-linejoin="round"/><path d="M455.34 95.04 L451.76 97.79 L450.4 104.9 L452.2 106.96 L457.72 106.26 L461.18 97.82Z" fill="#949494" stroke="#b8b8b8" stroke-width="0.9" stroke-linejoin="round"/><path d="M436.85 113.11 L431 112.51 L430.8 119.73 L437.38 117.69Z" fill="#949494" stroke="#b8b8b8" stroke-width="0.9" stroke-linejoin="round"/><path d="M455.39 32.19 L455.04 26.77 L447.12 28.47 L451.23 35.6 L452.11 35.38Z" fill="#949494" stroke="#b8b8b8" stroke-width="0.9" stroke-linejoin="round"/><path d="M522.68 -24.19 L474.27 3.71 L448.57 -19.71 L445.16 -44.53 L471.39 -94.78 L499.97 -85.32 L542 -48.2 L543 -43.61Z" fill="#9d9d9d" stroke="#b8b8b8" stroke-width="0.9" stroke-linejoin="round"/><path d="M466.46 109.11 L465.44 109.66 L466.23 122.09 L471.26 117.92 L470.75 110.72Z" fill="#8a8a8a" stroke="#b8b8b8" stroke-width="0.9" stroke-linejoin="round"/><path d="M486.8 91.58 L481.25 88.09 L483.43 82.44 L489.53 83.47 L490.53 89.32Z" fill="#979797" stroke="#b8b8b8" stroke-width="0.9" stroke-linejoin="round"/><path d="M446.36 141.92 L488.61 215.87 L425.12 231.96 L388.54 228.27 L353.44 198.64 L396.88 158.53 L427.48 135.8 L435.26 136.13Z" fill="#909090" stroke="#b8b8b8" stroke-width="0.9" stroke-linejoin="round"/><path d="M472.29 56.02 L473.49 56.01 L477.05 53.52 L475.44 43.73 L471.53 41.82 L470.91 41.99 L468.21 46.62 L470.7 54.81Z" fill="#8f8f8f" stroke="#b8b8b8" stroke-width="0.9" stroke-linejoin="round"/><path d="M387.45 7.3 L357.06 -5.14 L346.43 -4.23 L361.47 44.41 L364.19 44.79 L395.19 44.28 L417.08 34.12 L416.94 31Z" fill="#8b8b8b" stroke="#b8b8b8" stroke-width="0.9" stroke-linejoin="round"/><path d="M489.31 127.05 L481.48 119.1 L475.12 117.26 L471.26 117.92 L466.23 122.09 L463.92 125.79 L497.16 159.12 L491.29 131.29Z" fill="#8e8e8e" stroke="#b8b8b8" stroke-width="0.9" stroke-linejoin="round"/><path d="M448.67 20.31 L446.98 12.78 L449.75 7.93 L457.82 11.91 L454.87 21.25Z" fill="#9c9c9c" stroke="#b8b8b8" stroke-width="0.9" stroke-linejoin="round"/><path d="M415.38 108.04 L418.91 104.83 L417.08 100.54 L413.17 99.66 L410.43 103.44Z" fill="#9c9c9c" stroke="#b8b8b8" stroke-width="0.9" stroke-linejoin="round"/><path d="M429.85 110.46 L425.38 109.72 L423.69 105.36 L424.56 103.85 L430.02 100.46 L433.91 103.06 L433.89 105.98Z" fill="#9d9d9d" stroke="#b8b8b8" stroke-width="0.9" stroke-linejoin="round"/><path d="M410.3 112.84 L334.91 134.89 L334.12 131.39 L355.83 92.93 L379.58 97.16 L404.04 104.69Z" fill="#949494" stroke="#b8b8b8" stroke-width="0.9" stroke-linejoin="round"/><path d="M439.53 65.42 L445.48 60.35 L448.87 64.06 L447.88 69.03 L447.6 69.49 L442.54 69.31Z" fill="#8c8c8c" stroke="#b8b8b8" stroke-width="0.9" stroke-linejoin="round"/><path d="M443.31 26.52 L447.12 28.47 L451.23 35.6 L449.77 37.35 L443.06 37.77 L440.05 28.56Z" fill="#8b8b8b" stroke="#b8b8b8" stroke-width="0.9" stroke-linejoin="round"/><path d="M457.82 11.91 L449.75 7.93 L444.32 -7.24 L448.57 -19.71 L474.27 3.71 L472.83 9.04 L470.67 10.03Z" fill="#8f8f8f" stroke="#b8b8b8" stroke-width="0.9" stroke-linejoin="round"/><path d="M414.25 62.77 L413.71 61.81 L401.02 61.26 L408.98 70.94 L413.05 68.87Z" fill="#939393" stroke="#b8b8b8" stroke-width="0.9" stroke-linejoin="round"/><path d="M523.69 213.04 L488.61 215.87 L425.12 231.96 L549.7 680.93 L526.99 213.57Z" fill="#939393" stroke="#b8b8b8" stroke-width="0.9" stroke-linejoin="round"/><path d="M437.82 55.79 L441.61 53.25 L440.15 50 L431.98 47.99 L431.24 48.57 L430.53 52.2Z" fill="#9b9b9b" stroke="#b8b8b8" stroke-width="0.9" stroke-linejoin="round"/><path d="M438.84 77.16 L437.22 80.4 L430.2 80.34 L429.01 78.53 L430.19 71.06 L432.49 70.7Z" fill="#939393" stroke="#b8b8b8" stroke-width="0.9" stroke-linejoin="round"/><path d="M519.54 20.81 L549.02 -33.97 L543 -43.61 L522.68 -24.19 L509.44 -0.79 L503.92 26.92 L507.99 29.66Z" fill="#999999" stroke="#b8b8b8" stroke-width="0.9" stroke-linejoin="round"/><path d="M466.27 93.47 L467.53 87.3 L471.37 86.34 L477.94 89.55 L478.1 95.96 L476.45 98.39 L475.79 98.72 L474.93 98.7Z" fill="#8f8f8f" stroke="#b8b8b8" stroke-width="0.9" stroke-linejoin="round"/><path d="M483.59 106.81 L479.93 108.93 L481.48 119.1 L489.31 127.05 L489.11 108.63 L489.01 108.53Z" fill="#9d9d9d" stroke="#b8b8b8" stroke-width="0.9" stroke-linejoin="round"/><path d="M470.91 41.99 L468.21 46.62 L463.18 48.23 L458.58 42.18 L459.3 40.46 L463.4 37.4Z" fill="#9c9c9c" stroke="#b8b8b8" stroke-width="0.9" stroke-linejoin="round"/><path d="M429.9 70.89 L422.81 72.01 L422.95 77.65 L429.01 78.53 L430.19 71.06Z" fill="#909090" stroke="#b8b8b8" stroke-width="0.9" stroke-linejoin="round"/><path d="M418.65 41.8 L415.91 45.99 L403.67 46.85 L395.19 44.28 L417.08 34.12 L417.67 34.59Z" fill="#9c9c9c" stroke="#b8b8b8" stroke-width="0.9" stroke-linejoin="round"/><path d="M427.12 46.39 L422.69 48.04 L421.75 43.32 L426.11 41.44Z" fill="#969696" stroke="#b8b8b8" stroke-width="0.9" stroke-linejoin="round"/><path d="M439.45 15.48 L446.98 12.78 L448.67 20.31 L443.79 25.11Z" fill="#919191" stroke="#b8b8b8" stroke-width="0.9" stroke-linejoin="round"/><path d="M420.08 54.38 L415.82 56.03 L413.71 61.81 L414.25 62.77 L421.35 65.06 L423.88 63.26Z" fill="#909090" stroke="#b8b8b8" stroke-width="0.9" stroke-linejoin="round"/><path d="M460.46 109.3 L456.64 122.72 L448.5 118.24 L448.34 117.17 L452.2 106.96 L457.72 106.26Z" fill="#939393" stroke="#b8b8b8" stroke-width="0.9" stroke-linejoin="round"/><path d="M519.97 104.36 L528.02 93.64 L536.35 87.9 L570.24 100.61 L592.35 120.56 L557.58 200.65 L544.29 205.09 L519.36 125.89Z" fill="#8b8b8b" stroke="#b8b8b8" stroke-width="0.9" stroke-linejoin="round"/><path d="M486.8 91.58 L490.53 89.32 L495.02 90.94 L494.77 98.13 L490.92 99.14 L490.22 98.83 L486.65 92.7Z" fill="#999999" stroke="#b8b8b8" stroke-width="0.9" stroke-linejoin="round"/><path d="M435.65 61.74 L429.76 60.53 L428.57 54.32 L430.53 52.2 L437.82 55.79Z" fill="#8f8f8f" stroke="#b8b8b8" stroke-width="0.9" stroke-linejoin="round"/><path d="M437.81 64.98 L432.49 70.7 L438.84 77.16 L440.47 76.22 L442.54 69.31 L439.53 65.42Z" fill="#999999" stroke="#b8b8b8" stroke-width="0.9" stroke-linejoin="round"/><path d="M490.53 89.32 L489.53 83.47 L492.7 80.48 L497.25 82.65 L499.45 88.24 L495.02 90.94Z" fill="#8c8c8c" stroke="#b8b8b8" stroke-width="0.9" stroke-linejoin="round"/><path d="M549.02 -33.97 L572.35 -4.24 L640.11 26.5 L702.08 -10.82 L823.22 -233.61 L542 -48.2 L543 -43.61Z" fill="#939393" stroke="#b8b8b8" stroke-width="0.9" stroke-linejoin="round"/><path d="M476.25 106.26 L473.78 106.76 L470.97 110.63 L475.4 111.8 L479.83 108.91Z" fill="#8c8c8c" stroke="#b8b8b8" stroke-width="0.9" stroke-linejoin="round"/><path d="M429.94 35.61 L428.1 36.32 L426.11 41.44 L427.12 46.39 L431.24 48.57 L431.98 47.99 L434.61 41.07Z" fill="#939393" stroke="#b8b8b8" stroke-width="0.9" stroke-linejoin="round"/><path d="M450.14 56.83 L455.7 51.62 L458.83 58.09 L454.34 60.26Z" fill="#979797" stroke="#b8b8b8" stroke-width="0.9" stroke-linejoin="round"/><path d="M430.84 6.88 L417.24 14.94 L387.45 7.3 L357.06 -5.14 L393.12 -16.16 L431.35 4.31Z" fill="#949494" stroke="#b8b8b8" stroke-width="0.9" stroke-linejoin="round"/><path d="M450.14 56.83 L446.2 56.4 L445.48 60.35 L448.87 64.06 L453.63 63.06 L454.34 60.26Z" fill="#8d8d8d" stroke="#b8b8b8" stroke-width="0.9" stroke-linejoin="round"/><path d="M511.06 102.43 L506.21 92.45 L506.03 92.43 L501.58 99.18 L507.63 104.84Z" fill="#9c9c9c" stroke="#b8b8b8" stroke-width="0.9" stroke-linejoin="round"/><path d="M428.57 54.32 L420.81 53.48 L420.08 54.38 L423.88 63.26 L426.6 63.29 L429.76 60.53Z" fill="#9c9c9c" stroke="#b8b8b8" stroke-width="0.9" stroke-linejoin="round"/><path d="M449.66 72.61 L456.1 72.09 L457.34 78.69 L448.95 79.9 L448.13 78.46Z" fill="#9c9c9c" stroke="#b8b8b8" stroke-width="0.9" stroke-linejoin="round"/><path d="M471.37 86.34 L477.13 76.47 L477.35 76.45 L481.17 78 L483.43 82.44 L481.25 88.09 L477.94 89.55Z" fill="#939393" stroke="#b8b8b8" stroke-width="0.9" stroke-linejoin="round"/><path d="M900.48 335.34 L891.7 342.29 L557.58 200.65 L592.35 120.56 L621.34 99.8Z" fill="#949494" stroke="#b8b8b8" stroke-width="0.9" stroke-linejoin="round"/><path d="M479.83 108.91 L475.4 111.8 L475.12 117.26 L481.48 119.1 L479.93 108.93Z" fill="#8d8d8d" stroke="#b8b8b8" stroke-width="0.9" stroke-linejoin="round"/><path d="M449.66 72.61 L456.1 72.09 L458.17 68.73 L455.5 66.49 L447.88 69.03 L447.6 69.49Z" fill="#8d8d8d" stroke="#b8b8b8" stroke-width="0.9" stroke-linejoin="round"/><path d="M475.44 43.73 L479.63 43.41 L484.39 48.98 L481.7 53.55 L477.05 53.52Z" fill="#969696" stroke="#b8b8b8" stroke-width="0.9" stroke-linejoin="round"/><path d="M436.85 113.11 L437.23 112.59 L437.35 108.67 L433.89 105.98 L429.85 110.46 L431 112.51Z" fill="#989898" stroke="#b8b8b8" stroke-width="0.9" stroke-linejoin="round"/><path d="M413.05 68.87 L408.98 70.94 L408.58 72.49 L413.28 78.31 L415.49 77.97 L417.25 71.71Z" fill="#929292" stroke="#b8b8b8" stroke-width="0.9" stroke-linejoin="round"/><path d="M499.98 110.06 L506.09 110.04 L519.36 125.89 L544.29 205.09 L526.99 213.57 L523.69 213.04 L497.16 159.12 L491.29 131.29Z" fill="#979797" stroke="#b8b8b8" stroke-width="0.9" stroke-linejoin="round"/><path d="M464.96 29.43 L461.02 24.63 L456.67 24.1 L455.04 26.77 L455.39 32.19 L462.95 34.06Z" fill="#979797" stroke="#b8b8b8" stroke-width="0.9" stroke-linejoin="round"/><path d="M505.86 38.47 L509.29 34.78 L516.95 35.76 L527.01 47.72 L522.68 48.59 L507.65 45.52Z" fill="#939393" stroke="#b8b8b8" stroke-width="0.9" stroke-linejoin="round"/><path d="M426.41 90.14 L426.45 87.06 L420.39 84.37 L414.71 89.63 L414.9 90.74 L419.31 93.88Z" fill="#929292" stroke="#b8b8b8" stroke-width="0.9" stroke-linejoin="round"/><path d="M204.86 129.14 L68.92 306.25 L19.78 340.17 L-528.24 70.15 L-43.55 -161.73 L56.36 -109.68 L219.14 88.32Z" fill="#9c9c9c" stroke="#b8b8b8" stroke-width="0.9" stroke-linejoin="round"/><path d="M463.63 55.46 L462.18 49.64 L463.18 48.23 L468.21 46.62 L470.7 54.81Z" fill="#8d8d8d" stroke="#b8b8b8" stroke-width="0.9" stroke-linejoin="round"/><path d="M485.55 57.84 L492.17 53 L492.33 48.45 L490.46 47.41 L484.39 48.98 L481.7 53.55 L484.52 57.61Z" fill="#909090" stroke="#b8b8b8" stroke-width="0.9" stroke-linejoin="round"/><path d="M572.35 -4.24 L640.11 26.5 L630.44 82 L621.34 99.8 L592.35 120.56 L570.24 100.61 L550.41 39.05Z" fill="#9b9b9b" stroke="#b8b8b8" stroke-width="0.9" stroke-linejoin="round"/><path d="M483.59 106.81 L479.93 108.93 L479.83 108.91 L476.25 106.26 L475.79 98.72 L476.45 98.39 L483.04 103.24Z" fill="#969696" stroke="#b8b8b8" stroke-width="0.9" stroke-linejoin="round"/><path d="M393.12 -16.16 L445.16 -44.53 L471.39 -94.78 L454.76 -112.83 L368.12 -132.96 L311.37 -32.54 L346.43 -4.23 L357.06 -5.14Z" fill="#959595" stroke="#b8b8b8" stroke-width="0.9" stroke-linejoin="round"/><path d="M475.59 32.04 L471.53 41.82 L470.91 41.99 L463.4 37.4 L462.95 34.06 L464.96 29.43 L472.43 27.79Z" fill="#939393" stroke="#b8b8b8" stroke-width="0.9" stroke-linejoin="round"/><path d="M437.52 88.73 L439.04 85.41 L448.01 85.2 L449.74 87.91 L445.14 93.37 L437.67 92.08Z" fill="#8f8f8f" stroke="#b8b8b8" stroke-width="0.9" stroke-linejoin="round"/><path d="M425.31 23.58 L422.5 23.13 L416.94 31 L417.08 34.12 L417.67 34.59 L428.1 36.32 L429.94 35.61 L432.04 30.79Z" fill="#979797" stroke="#b8b8b8" stroke-width="0.9" stroke-linejoin="round"/><path d="M497.25 82.65 L503.68 76.15 L508.01 78.05 L502.71 88.98 L499.45 88.24Z" fill="#959595" stroke="#b8b8b8" stroke-width="0.9" stroke-linejoin="round"/><path d="M489.75 62.44 L485.55 57.84 L484.52 57.61 L481.56 61.49 L483.44 67.16 L488.98 68.29 L488.99 68.27Z" fill="#909090" stroke="#b8b8b8" stroke-width="0.9" stroke-linejoin="round"/><path d="M499.98 110.06 L491.29 131.29 L489.31 127.05 L489.11 108.63 L497.4 107.48Z" fill="#949494" stroke="#b8b8b8" stroke-width="0.9" stroke-linejoin="round"/><path d="M469.88 103.59 L473.78 106.76 L476.25 106.26 L475.79 98.72 L474.93 98.7Z" fill="#949494" stroke="#b8b8b8" stroke-width="0.9" stroke-linejoin="round"/><path d="M483.49 39.33 L479.63 43.41 L484.39 48.98 L490.46 47.41 L488.72 41.33Z" fill="#969696" stroke="#b8b8b8" stroke-width="0.9" stroke-linejoin="round"/><path d="M475.59 32.04 L482.24 32.56 L484.33 30.96 L484.9 20.12 L475.47 14.32 L472.43 27.79Z" fill="#8d8d8d" stroke="#b8b8b8" stroke-width="0.9" stroke-linejoin="round"/><path d="M433.31 15.86 L437.38 28.45 L432.04 30.79 L425.31 23.58Z" fill="#8a8a8a" stroke="#b8b8b8" stroke-width="0.9" stroke-linejoin="round"/><path d="M468.27 63.29 L472.29 56.02 L470.7 54.81 L463.63 55.46 L460.95 58.64 L463.49 63.87Z" fill="#8b8b8b" stroke="#b8b8b8" stroke-width="0.9" stroke-linejoin="round"/><path d="M498.8 61.36 L506.88 60.89 L508.67 65.38 L500.43 69.08 L499.38 68.01Z" fill="#929292" stroke="#b8b8b8" stroke-width="0.9" stroke-linejoin="round"/><path d="M437.67 92.08 L445.14 93.37 L446.11 96.66 L444.62 99.06 L438.64 98.91 L437.61 92.18Z" fill="#959595" stroke="#b8b8b8" stroke-width="0.9" stroke-linejoin="round"/><path d="M418.91 104.83 L417.08 100.54 L420.22 96.82 L421.89 97.57 L424.56 103.85 L423.69 105.36Z" fill="#999999" stroke="#b8b8b8" stroke-width="0.9" stroke-linejoin="round"/><path d="M264.74 58.6 L219.14 88.32 L204.86 129.14 L319.92 122.5Z" fill="#939393" stroke="#b8b8b8" stroke-width="0.9" stroke-linejoin="round"/><path d="M411.76 95.61 L414.9 90.74 L414.71 89.63 L407.6 84.74 L388.25 85.42 L355.97 92.49 L355.83 92.93 L379.58 97.16Z" fill="#9a9a9a" stroke="#b8b8b8" stroke-width="0.9" stroke-linejoin="round"/><path d="M453.18 89.32 L449.74 87.91 L448.01 85.2 L448.95 79.9 L457.34 78.69 L462.33 82.41 L462.34 82.47Z" fill="#939393" stroke="#b8b8b8" stroke-width="0.9" stroke-linejoin="round"/><path d="M355.83 92.93 L334.12 131.39 L319.92 122.5 L264.74 58.6 L279.54 -26.31 L311.37 -32.54 L346.43 -4.23 L361.47 44.41 L355.97 92.49Z" fill="#8b8b8b" stroke="#b8b8b8" stroke-width="0.9" stroke-linejoin="round"/><path d="M475.59 32.04 L482.24 32.56 L483.49 39.33 L479.63 43.41 L475.44 43.73 L471.53 41.82Z" fill="#8a8a8a" stroke="#b8b8b8" stroke-width="0.9" stroke-linejoin="round"/><path d="M490.22 98.83 L485.17 99.96 L483.04 103.24 L483.59 106.81 L489.01 108.53 L490.92 99.14Z" fill="#949494" stroke="#b8b8b8" stroke-width="0.9" stroke-linejoin="round"/><path d="M511.06 102.43 L511.88 102.36 L519.97 104.36 L519.36 125.89 L506.09 110.04 L507.63 104.84Z" fill="#919191" stroke="#b8b8b8" stroke-width="0.9" stroke-linejoin="round"/><path d="M495.16 33.03 L496.63 29.39 L492.74 19.33 L484.9 20.12 L484.33 30.96Z" fill="#8b8b8b" stroke="#b8b8b8" stroke-width="0.9" stroke-linejoin="round"/><path d="M452.11 35.38 L451.23 35.6 L449.77 37.35 L450.64 41.28 L457.56 42.86 L458.58 42.18 L459.3 40.46Z" fill="#909090" stroke="#b8b8b8" stroke-width="0.9" stroke-linejoin="round"/><path d="M499.38 68.01 L500.43 69.08 L500.92 72.6 L492.31 77.02 L488.75 73.46 L488.98 68.29 L488.99 68.27Z" fill="#999999" stroke="#b8b8b8" stroke-width="0.9" stroke-linejoin="round"/><path d="M488.72 41.33 L490.46 47.41 L492.33 48.45 L496.55 47.14 L498.44 36.96 L495.26 33.42Z" fill="#9d9d9d" stroke="#b8b8b8" stroke-width="0.9" stroke-linejoin="round"/><path d="M355.97 92.49 L361.47 44.41 L364.19 44.79 L401.02 61.26 L408.98 70.94 L408.58 72.49 L388.25 85.42Z" fill="#8b8b8b" stroke="#b8b8b8" stroke-width="0.9" stroke-linejoin="round"/><path d="M334.91 134.89 L334.12 131.39 L319.92 122.5 L204.86 129.14 L68.92 306.25 L344.38 193.85 L335.45 137.73Z" fill="#8b8b8b" stroke="#b8b8b8" stroke-width="0.9" stroke-linejoin="round"/><path d="M428.57 54.32 L420.81 53.48 L420.69 50.64 L422.69 48.04 L427.12 46.39 L431.24 48.57 L430.53 52.2Z" fill="#8b8b8b" stroke="#b8b8b8" stroke-width="0.9" stroke-linejoin="round"/><path d="M517.15 77.27 L522.54 75.09 L526.46 75.29 L536.35 87.9 L528.02 93.64 L514.02 93.63 L509.04 91.71Z" fill="#919191" stroke="#b8b8b8" stroke-width="0.9" stroke-linejoin="round"/><path d="M440.47 76.22 L448.13 78.46 L448.95 79.9 L448.01 85.2 L439.04 85.41 L437.22 80.4 L438.84 77.16Z" fill="#919191" stroke="#b8b8b8" stroke-width="0.9" stroke-linejoin="round"/><path d="M497.69 59.28 L503.4 52.77 L503.04 49.75 L496.55 47.14 L492.33 48.45 L492.17 53 L495.91 58.78Z" fill="#8f8f8f" stroke="#b8b8b8" stroke-width="0.9" stroke-linejoin="round"/><path d="M441.41 43.02 L440.15 50 L441.61 53.25 L444.83 54.25 L449.64 47.69 L448.96 46.09Z" fill="#999999" stroke="#b8b8b8" stroke-width="0.9" stroke-linejoin="round"/><path d="M473.49 56.01 L477.07 61.61 L481.56 61.49 L484.52 57.61 L481.7 53.55 L477.05 53.52Z" fill="#8f8f8f" stroke="#b8b8b8" stroke-width="0.9" stroke-linejoin="round"/><path d="M454.76 -112.83 L368.12 -132.96 L226.75 -438.23 L460.45 -863.76 L620.89 -544.67Z" fill="#909090" stroke="#b8b8b8" stroke-width="0.9" stroke-linejoin="round"/><path d="M509.44 -0.79 L492.74 19.33 L496.63 29.39 L503.92 26.92Z" fill="#919191" stroke="#b8b8b8" stroke-width="0.9" stroke-linejoin="round"/><path d="M467.83 103.99 L466.46 109.11 L465.44 109.66 L460.46 109.3 L457.72 106.26 L461.18 97.82 L462.48 97.45Z" fill="#929292" stroke="#b8b8b8" stroke-width="0.9" stroke-linejoin="round"/><path d="M519.54 20.81 L507.99 29.66 L509.29 34.78 L516.95 35.76Z" fill="#8e8e8e" stroke="#b8b8b8" stroke-width="0.9" stroke-linejoin="round"/><path d="M505.86 38.47 L507.65 45.52 L503.04 49.75 L496.55 47.14 L498.44 36.96Z" fill="#979797" stroke="#b8b8b8" stroke-width="0.9" stroke-linejoin="round"/><path d="M526.46 75.29 L536.35 87.9 L570.24 100.61 L550.41 39.05 L533.05 49.04Z" fill="#949494" stroke="#b8b8b8" stroke-width="0.9" stroke-linejoin="round"/><path d="M437.35 108.67 L442.2 107.69 L442.92 105.73 L437.49 101.13 L433.91 103.06 L433.89 105.98Z" fill="#969696" stroke="#b8b8b8" stroke-width="0.9" stroke-linejoin="round"/><path d="M429.25 95.23 L437.61 92.18 L438.64 98.91 L437.49 101.13 L433.91 103.06 L430.02 100.46 L429.23 95.31Z" fill="#929292" stroke="#b8b8b8" stroke-width="0.9" stroke-linejoin="round"/><path d="M483.44 67.16 L481.22 68.29 L475.74 65.4 L477.07 61.61 L481.56 61.49Z" fill="#909090" stroke="#b8b8b8" stroke-width="0.9" stroke-linejoin="round"/><path d="M485.17 99.96 L482.99 96.14 L478.1 95.96 L476.45 98.39 L483.04 103.24Z" fill="#939393" stroke="#b8b8b8" stroke-width="0.9" stroke-linejoin="round"/><path d="M454.27 48.85 L449.64 47.69 L448.96 46.09 L450.64 41.28 L457.56 42.86Z" fill="#999999" stroke="#b8b8b8" stroke-width="0.9" stroke-linejoin="round"/><path d="M414.86 111.36 L421.28 115.26 L425.38 109.72 L423.69 105.36 L418.91 104.83 L415.38 108.04Z" fill="#9c9c9c" stroke="#b8b8b8" stroke-width="0.9" stroke-linejoin="round"/><path d="M433.31 15.86 L433.91 13.98 L430.84 6.88 L417.24 14.94 L422.5 23.13 L425.31 23.58Z" fill="#989898" stroke="#b8b8b8" stroke-width="0.9" stroke-linejoin="round"/><path d="M924.79 319.59 L1534.15 70.15 L834.77 -248.4 L823.22 -233.61 L702.08 -10.82 L758.59 113.26Z" fill="#8e8e8e" stroke="#b8b8b8" stroke-width="0.9" stroke-linejoin="round"/><path d="M437.38 28.45 L440.05 28.56 L443.06 37.77 L440.72 41.59 L434.61 41.07 L429.94 35.61 L432.04 30.79Z" fill="#919191" stroke="#b8b8b8" stroke-width="0.9" stroke-linejoin="round"/><path d="M435.65 61.74 L437.81 64.98 L439.53 65.42 L445.48 60.35 L446.2 56.4 L444.83 54.25 L441.61 53.25 L437.82 55.79Z" fill="#989898" stroke="#b8b8b8" stroke-width="0.9" stroke-linejoin="round"/><path d="M472.43 27.79 L475.47 14.32 L472.83 9.04 L470.67 10.03 L461.02 24.63 L464.96 29.43Z" fill="#9b9b9b" stroke="#b8b8b8" stroke-width="0.9" stroke-linejoin="round"/><path d="M411.07 113.21 L410.8 117.67 L412.42 120.6 L422.1 120.25 L421.28 115.26 L414.86 111.36Z" fill="#8f8f8f" stroke="#b8b8b8" stroke-width="0.9" stroke-linejoin="round"/><path d="M415.91 45.99 L403.67 46.85 L415.82 56.03 L420.08 54.38 L420.81 53.48 L420.69 50.64Z" fill="#8e8e8e" stroke="#b8b8b8" stroke-width="0.9" stroke-linejoin="round"/><path d="M492.7 80.48 L492.31 77.02 L500.92 72.6 L503.68 76.15 L497.25 82.65Z" fill="#8d8d8d" stroke="#b8b8b8" stroke-width="0.9" stroke-linejoin="round"/><path d="M456.67 24.1 L461.02 24.63 L470.67 10.03 L457.82 11.91 L454.87 21.25Z" fill="#979797" stroke="#b8b8b8" stroke-width="0.9" stroke-linejoin="round"/><path d="M426.6 63.29 L423.88 63.26 L421.35 65.06 L420.78 70.45 L422.81 72.01 L429.9 70.89Z" fill="#8d8d8d" stroke="#b8b8b8" stroke-width="0.9" stroke-linejoin="round"/><path d="M507.72 56.5 L506.88 60.89 L508.67 65.38 L513.39 67.07 L513.32 55.76Z" fill="#979797" stroke="#b8b8b8" stroke-width="0.9" stroke-linejoin="round"/><path d="M431.35 4.31 L393.12 -16.16 L445.16 -44.53 L448.57 -19.71 L444.32 -7.24Z" fill="#959595" stroke="#b8b8b8" stroke-width="0.9" stroke-linejoin="round"/><path d="M488.98 68.29 L488.75 73.46 L481.17 78 L477.35 76.45 L481.22 68.29 L483.44 67.16Z" fill="#999999" stroke="#b8b8b8" stroke-width="0.9" stroke-linejoin="round"/><path d="M486.8 91.58 L481.25 88.09 L477.94 89.55 L478.1 95.96 L482.99 96.14 L486.65 92.7Z" fill="#929292" stroke="#b8b8b8" stroke-width="0.9" stroke-linejoin="round"/><path d="M410.3 112.84 L404.04 104.69 L410.43 103.44 L415.38 108.04 L414.86 111.36 L411.07 113.21Z" fill="#959595" stroke="#b8b8b8" stroke-width="0.9" stroke-linejoin="round"/><path d="M404.04 104.69 L379.58 97.16 L411.76 95.61 L413.17 99.66 L410.43 103.44Z" fill="#9c9c9c" stroke="#b8b8b8" stroke-width="0.9" stroke-linejoin="round"/><path d="M490.92 99.14 L489.01 108.53 L489.11 108.63 L497.4 107.48 L498.06 100.32 L494.77 98.13Z" fill="#8d8d8d" stroke="#b8b8b8" stroke-width="0.9" stroke-linejoin="round"/><path d="M414.71 89.63 L420.39 84.37 L419.63 80.44 L415.49 77.97 L413.28 78.31 L407.6 84.74Z" fill="#919191" stroke="#b8b8b8" stroke-width="0.9" stroke-linejoin="round"/><path d="M429.25 95.23 L426.41 90.14 L419.31 93.88 L420.22 96.82 L421.89 97.57 L429.23 95.31Z" fill="#959595" stroke="#b8b8b8" stroke-width="0.9" stroke-linejoin="round"/><path d="M497.69 59.28 L503.4 52.77 L507.72 56.5 L506.88 60.89 L498.8 61.36Z" fill="#9a9a9a" stroke="#b8b8b8" stroke-width="0.9" stroke-linejoin="round"/><path d="M468.27 63.29 L472.48 67.37 L472.09 72.91 L466.47 74.25 L461.27 67.95 L463.49 63.87Z" fill="#929292" stroke="#b8b8b8" stroke-width="0.9" stroke-linejoin="round"/><path d="M507.72 56.5 L503.4 52.77 L503.04 49.75 L507.65 45.52 L522.68 48.59 L513.32 55.76Z" fill="#919191" stroke="#b8b8b8" stroke-width="0.9" stroke-linejoin="round"/><path d="M506.03 92.43 L502.71 88.98 L508.01 78.05 L517.15 77.27 L509.04 91.71 L506.21 92.45Z" fill="#979797" stroke="#b8b8b8" stroke-width="0.9" stroke-linejoin="round"/><path d="M495.91 58.78 L492.17 53 L485.55 57.84 L489.75 62.44Z" fill="#929292" stroke="#b8b8b8" stroke-width="0.9" stroke-linejoin="round"/><path d="M407.6 84.74 L413.28 78.31 L408.58 72.49 L388.25 85.42Z" fill="#919191" stroke="#b8b8b8" stroke-width="0.9" stroke-linejoin="round"/><path d="M465.44 109.66 L460.46 109.3 L456.64 122.72 L458.59 124.99 L463.92 125.79 L466.23 122.09Z" fill="#949494" stroke="#b8b8b8" stroke-width="0.9" stroke-linejoin="round"/><path d="M427.54 86.25 L430.2 80.34 L437.22 80.4 L439.04 85.41 L437.52 88.73Z" fill="#8d8d8d" stroke="#b8b8b8" stroke-width="0.9" stroke-linejoin="round"/><path d="M422.81 72.01 L422.95 77.65 L419.63 80.44 L415.49 77.97 L417.25 71.71 L420.78 70.45Z" fill="#8a8a8a" stroke="#b8b8b8" stroke-width="0.9" stroke-linejoin="round"/><path d="M453.63 63.06 L448.87 64.06 L447.88 69.03 L455.5 66.49Z" fill="#939393" stroke="#b8b8b8" stroke-width="0.9" stroke-linejoin="round"/><path d="M494.77 98.13 L498.06 100.32 L501.58 99.18 L506.03 92.43 L502.71 88.98 L499.45 88.24 L495.02 90.94Z" fill="#959595" stroke="#b8b8b8" stroke-width="0.9" stroke-linejoin="round"/><path d="M519.97 104.36 L528.02 93.64 L514.02 93.63 L511.88 102.36Z" fill="#919191" stroke="#b8b8b8" stroke-width="0.9" stroke-linejoin="round"/><path d="M463.92 125.79 L458.59 124.99 L446.36 141.92 L488.61 215.87 L523.69 213.04 L497.16 159.12Z" fill="#919191" stroke="#b8b8b8" stroke-width="0.9" stroke-linejoin="round"/><path d="M463.18 48.23 L458.58 42.18 L457.56 42.86 L454.27 48.85 L455.75 50.85 L462.18 49.64Z" fill="#949494" stroke="#b8b8b8" stroke-width="0.9" stroke-linejoin="round"/><path d="M508.67 65.38 L500.43 69.08 L500.92 72.6 L503.68 76.15 L508.01 78.05 L517.15 77.27 L522.54 75.09 L513.39 67.07Z" fill="#8d8d8d" stroke="#b8b8b8" stroke-width="0.9" stroke-linejoin="round"/><path d="M471.37 86.34 L477.13 76.47 L472.09 72.91 L466.47 74.25 L462.33 82.41 L462.34 82.47 L467.53 87.3Z" fill="#8b8b8b" stroke="#b8b8b8" stroke-width="0.9" stroke-linejoin="round"/><path d="M507.63 104.84 L506.09 110.04 L499.98 110.06 L497.4 107.48 L498.06 100.32 L501.58 99.18Z" fill="#929292" stroke="#b8b8b8" stroke-width="0.9" stroke-linejoin="round"/><path d="M458.17 68.73 L456.1 72.09 L457.34 78.69 L462.33 82.41 L466.47 74.25 L461.27 67.95Z" fill="#8d8d8d" stroke="#b8b8b8" stroke-width="0.9" stroke-linejoin="round"/><path d="M519.54 20.81 L549.02 -33.97 L572.35 -4.24 L550.41 39.05 L533.05 49.04 L527.01 47.72 L516.95 35.76Z" fill="#8f8f8f" stroke="#b8b8b8" stroke-width="0.9" stroke-linejoin="round"/><path d="M486.65 92.7 L482.99 96.14 L485.17 99.96 L490.22 98.83Z" fill="#919191" stroke="#b8b8b8" stroke-width="0.9" stroke-linejoin="round"/><path d="M443.31 26.52 L447.12 28.47 L455.04 26.77 L456.67 24.1 L454.87 21.25 L448.67 20.31 L443.79 25.11Z" fill="#8e8e8e" stroke="#b8b8b8" stroke-width="0.9" stroke-linejoin="round"/><path d="M420.78 70.45 L417.25 71.71 L413.05 68.87 L414.25 62.77 L421.35 65.06Z" fill="#949494" stroke="#b8b8b8" stroke-width="0.9" stroke-linejoin="round"/><path d="M526.99 213.57 L549.7 680.93 L560.26 768.23 L891.7 342.29 L557.58 200.65 L544.29 205.09Z" fill="#969696" stroke="#b8b8b8" stroke-width="0.9" stroke-linejoin="round"/><path d="M410.3 112.84 L334.91 134.89 L335.45 137.73 L410.8 117.67 L411.07 113.21Z" fill="#8c8c8c" stroke="#b8b8b8" stroke-width="0.9" stroke-linejoin="round"/><path d="M335.45 137.73 L344.38 193.85 L353.44 198.64 L396.88 158.53 L412.42 120.6 L410.8 117.67Z" fill="#9b9b9b" stroke="#b8b8b8" stroke-width="0.9" stroke-linejoin="round"/><path d="M279.54 -26.31 L56.36 -109.68 L219.14 88.32 L264.74 58.6Z" fill="#969696" stroke="#b8b8b8" stroke-width="0.9" stroke-linejoin="round"/></g>
<rect x="407.1" y="17" width="106.7" height="106.3" filter="url(#md)" opacity="0.2"/>
<rect x="407.1" y="17" width="106.7" height="106.3" filter="url(#vd)" opacity="0.2"/>
<ellipse cx="472" cy="42" rx="30" ry="22" fill="#cccccc" opacity="0.42" filter="url(#blur6)"/><ellipse cx="424" cy="62" rx="16" ry="22" fill="#b4b4b4" opacity="0.35" filter="url(#blur6)"/><path d="M440 72 L458 66 L480 80 L496 96 L488 100 L470 90 L450 84Z" fill="#7a7a7a" opacity="0.45" filter="url(#blur3)"/><ellipse cx="492" cy="76" rx="10" ry="8" fill="#d0d0d0" opacity="0.35" filter="url(#blur3)"/><ellipse cx="470" cy="105" rx="16" ry="12" fill="#bbb" opacity="0.2" filter="url(#blur6)"/><path d="M407 50 L428 54 L440 64 L436 82 L426 90 L407 92Z" fill="#888888" opacity="0.35" filter="url(#blur3)"/><path d="M407 17 L421 17 L416 24 L407 29Z" fill="#565656" opacity="0.9" filter="url(#blur1)"/><path d="M428 17 L446 17 L446 22 L437 23 L429 21Z" fill="#5a5a5a" opacity="0.9" filter="url(#blur1)"/><path d="M502 26 L514 20 L514 74 L503 72 L501 50Z" fill="#7a7a7a" opacity="0.6" filter="url(#blur1)"/><path d="M494 84 L505 80 L514 78 L514 106 L503 101Z" fill="#646464" opacity="0.8" filter="url(#blur1)"/><path d="M407 94 L418 92 L428 93 L438 98 L441 103 L436 108 L428 112 L415 116 L407 118Z" fill="#767676" opacity="0.8" filter="url(#blur1)"/><path d="M407 114 L420 112 L436 110 L446 118 L444 124 L407 124Z" fill="#6e6e6e" opacity="0.7" filter="url(#blur1)"/>
<rect x="407.1" y="17" width="106.7" height="106.3" filter="url(#nd)" opacity="0.4"/>
</g>
<text x="71" y="30.6" font-size="21" text-anchor="middle" fill="#000" color="#000" style="stroke-width:0.3px">a</text><text x="182.8" y="34.2" font-size="21" text-anchor="middle" fill="#000" color="#000" style="stroke-width:0.3px">b</text><text x="303.6" y="31.6" font-size="21" text-anchor="middle" fill="#000" color="#000" style="stroke-width:0.3px">c</text><text x="415.8" y="34" font-size="21" text-anchor="middle" fill="#000" color="#000" style="stroke-width:0.3px">d</text>
<rect x="137.8" y="116" width="27.7" height="3.6" fill="#fff"/><text x="151.65" y="111.7" font-size="10.5" text-anchor="middle" fill="#fff" color="#fff" >10 μm</text>
<rect x="249" y="116.7" width="27" height="3.6" fill="#fff"/><text x="262.5" y="112" font-size="10.5" text-anchor="middle" fill="#fff" color="#fff" >20 μm</text>
<rect x="371.8" y="114" width="28.2" height="3.8" fill="#fff"/><text x="385.9" y="110.2" font-size="10.5" text-anchor="middle" fill="#fff" color="#fff" >10 μm</text>
<rect x="483" y="114.5" width="27" height="3.5" fill="#fff"/><text x="496.5" y="110.8" font-size="10.5" text-anchor="middle" fill="#fff" color="#fff" >20 μm</text>
<path d="M58.4 11.1L284.2 11.1" stroke="#f9a02a" stroke-width="1.9" fill="none" stroke-dasharray="6.4 6.12" stroke-dashoffset="3.22"/>
<path d="M58.4 129.6L284.2 129.6" stroke="#f9a02a" stroke-width="1.9" fill="none" stroke-dasharray="6.4 6.12" stroke-dashoffset="3.22"/>
<path d="M58.4 11.1L58.4 129.6" stroke="#f9a02a" stroke-width="1.9" fill="none" stroke-dasharray="5.8 6.1" stroke-dashoffset="3.6"/>
<path d="M284.2 11.1L284.2 129.6" stroke="#f9a02a" stroke-width="1.9" fill="none" stroke-dasharray="5.8 6.1" stroke-dashoffset="3.6"/>
<path d="M291.6 11.4L517.1 11.4" stroke="#f9a02a" stroke-width="1.9" fill="none" stroke-dasharray="6.4 6.12" stroke-dashoffset="3.52"/>
<path d="M291.6 129.3L517.1 129.3" stroke="#f9a02a" stroke-width="1.9" fill="none" stroke-dasharray="6.4 6.12" stroke-dashoffset="3.52"/>
<path d="M291.6 11.4L291.6 129.3" stroke="#f9a02a" stroke-width="1.9" fill="none" stroke-dasharray="5.8 6.1" stroke-dashoffset="3.9"/>
<path d="M517.1 11.4L517.1 129.3" stroke="#f9a02a" stroke-width="1.9" fill="none" stroke-dasharray="5.8 6.1" stroke-dashoffset="3.9"/>
<path d="M57 186.04 L57.37 186.17 L57.73 185.73 L58.1 186.11 L58.47 185.98 L58.84 185.88 L59.2 185.52 L59.57 185.33 L59.94 186.03 L60.3 185.94 L60.67 185.8 L61.04 185.31 L61.4 185.71 L61.77 185.91 L62.14 185.13 L62.51 185.73 L62.87 185.67 L63.24 185.85 L63.61 185.63 L63.97 185.82 L64.34 185.37 L64.71 185.18 L65.07 185.08 L65.44 185.67 L65.81 185.48 L66.18 185.18 L66.54 185.69 L66.91 185.42 L67.28 185.47 L67.64 185.4 L68.01 185.58 L68.38 185.08 L68.75 185.57 L69.11 185.13 L69.48 185.46 L69.85 185.29 L70.21 185.47 L70.58 185.25 L70.95 184.77 L71.31 185.29 L71.68 185.34 L72.05 184.71 L72.42 185.16 L72.78 185.14 L73.15 184.74 L73.52 184.77 L73.88 185.05 L74.25 185.21 L74.62 184.52 L74.98 185.06 L75.35 184.34 L75.72 185.14 L76.09 184.92 L76.45 184.96 L76.82 184.26 L77.19 184.2 L77.55 185.06 L77.92 184.93 L78.29 184.84 L78.66 184.97 L79.02 184.98 L79.39 184.84 L79.76 184.84 L80.12 184.84 L80.49 184.44 L80.86 184.83 L81.22 184.86 L81.59 184.07 L81.96 184.62 L82.33 184.7 L82.69 184.69 L83.06 184.55 L83.43 184.55 L83.79 184.31 L84.16 183.93 L84.53 183.97 L84.9 184.63 L85.26 184.42 L85.63 183.98 L86 183.86 L86.36 184.61 L86.73 184.57 L87.1 184.54 L87.46 184.01 L87.83 184.32 L88.2 183.82 L88.57 183.74 L88.93 183.74 L89.3 184.01 L89.67 184.29 L90.03 184.28 L90.4 183.96 L90.77 184.18 L91.13 184.26 L91.5 184.14 L91.87 183.43 L92.24 184.17 L92.6 184.1 L92.97 184.07 L93.34 184.22 L93.7 183.68 L94.07 183.35 L94.44 184.11 L94.81 183.63 L95.17 184.08 L95.54 184.13 L95.91 184.06 L96.27 183.64 L96.64 183.52 L97.01 183.87 L97.37 183.94 L97.74 183.84 L98.11 183.15 L98.48 183.95 L98.84 183.76 L99.21 183.78 L99.58 183.46 L99.94 183.23 L100.31 183.77 L100.68 183.75 L101.04 183.68 L101.41 183.07 L101.78 183.7 L102.15 183.62 L102.51 183.76 L102.88 183.63 L103.25 183.01 L103.61 183.61 L103.98 183.49 L104.35 183.7 L104.72 183.57 L105.08 183.16 L105.45 182.76 L105.82 183.41 L106.18 182.97 L106.55 182.97 L106.92 183.02 L107.28 182.73 L107.65 183.32 L108.02 183.27 L108.39 183.44 L108.75 182.95 L109.12 182.81 L109.49 183.23 L109.85 183.2 L110.22 183.24 L110.59 183.33 L110.95 183.27 L111.32 183.12 L111.69 183.21 L112.06 182.83 L112.42 183.09 L112.79 183.25 L113.16 183.22 L113.52 183.07 L113.89 183.15 L114.26 182.33 L114.63 182.99 L114.99 183.09 L115.36 182.95 L115.73 182.3 L116.09 183.04 L116.46 182.88 L116.83 182.44 L117.19 182.92 L117.56 183.06 L117.93 182.32 L118.3 182.31 L118.66 182.34 L119.03 182.84 L119.4 182.72 L119.76 182.88 L120.13 182.84 L120.5 182.78 L120.86 182.81 L121.23 182.67 L121.6 182.69 L121.97 182.58 L122.33 182.21 L122.7 182.69 L123.07 182.68 L123.43 182.22 L123.8 181.8 L124.17 182.4 L124.54 181.83 L124.9 182.5 L125.27 182.02 L125.64 182.3 L126 182.31 L126.37 181.9 L126.74 181.61 L127.1 182.25 L127.47 181.54 L127.84 182.31 L128.21 182.3 L128.57 182.34 L128.94 182.08 L129.31 181.4 L129.67 182.16 L130.04 182.04 L130.41 182.06 L130.78 181.99 L131.14 181.64 L131.51 181.58 L131.88 182.05 L132.24 181.33 L132.61 181.35 L132.98 181.88 L133.34 181.88 L133.71 181.93 L134.08 181.27 L134.45 181.82 L134.81 181.67 L135.18 181.68 L135.55 181.41 L135.91 181.61 L136.28 181.76 L136.65 181.64 L137.01 181.3 L137.38 181.58 L137.75 180.97 L138.12 181.49 L138.48 181.07 L138.85 181.61 L139.22 181.54 L139.58 181.51 L139.95 181.48 L140.32 181.55 L140.69 181.42 L141.05 181.5 L141.42 181.45 L141.79 181.41 L142.15 181.4 L142.52 181.35 L142.89 181.25 L143.25 181.12 L143.62 181.12 L143.99 180.95 L144.36 180.28 L144.72 179.96 L145.09 179.73 L145.46 180.15 L145.82 179.99 L146.19 179.77 L146.56 176.03 L146.92 179.75 L147.29 180.16 L147.66 175.31 L148.03 178.59 L148.39 178.81 L148.76 177.94 L149.13 178.99 L149.49 177.43 L149.86 178.84 L150.23 177.08 L150.6 177.63 L150.96 173.52 L151.33 174.62 L151.7 177.67 L152.06 172.44 L152.43 176.5 L152.8 172.07 L153.16 175.34 L153.53 176.18 L153.9 175.27 L154.27 175.52 L154.63 176.36 L155 175.26 L155.37 170.62 L155.73 172.49 L156.1 170.52 L156.47 175.28 L156.83 172.06 L157.2 174.46 L157.57 169.99 L157.94 173.14 L158.3 171.63 L158.67 174.48 L159.04 167.94 L159.4 169.42 L159.77 173.54 L160.14 168.07 L160.51 168.05 L160.87 173.23 L161.24 169.28 L161.61 172.01 L161.97 171.7 L162.34 171.22 L162.71 172.4 L163.07 171.36 L163.44 172.19 L163.81 171.26 L164.18 171.07 L164.54 171.18 L164.91 168.88 L165.28 168.64 L165.64 171.82 L166.01 170.44 L166.38 167.3 L166.74 171.37 L167.11 171.16 L167.48 165.09 L167.85 169.92 L168.21 165.18 L168.58 170.82 L168.95 170.04 L169.31 169 L169.68 165.88 L170.05 169.34 L170.42 168.68 L170.78 164.27 L171.15 165.16 L171.52 165.58 L171.88 169.19 L172.25 169.42 L172.62 163.94 L172.98 168.66 L173.35 167.64 L173.72 162.86 L174.09 168.66 L174.45 167.58 L174.82 168.6 L175.19 168.47 L175.55 168.45 L175.92 168.22 L176.29 168.18 L176.66 163.45 L177.02 166.43 L177.39 164.83 L177.76 166.68 L178.12 164.6 L178.49 167.1 L178.86 166.57 L179.22 163.19 L179.59 166.49 L179.96 166.12 L180.33 165.79 L180.69 166.71 L181.06 161.31 L181.43 166.32 L181.79 165.76 L182.16 161.05 L182.53 166.77 L182.89 160.26 L183.26 161.67 L183.63 165.01 L184 166.08 L184.36 166.16 L184.73 165.78 L185.1 161.67 L185.46 165.69 L185.83 165.64 L186.2 165.75 L186.57 165.06 L186.93 161.6 L187.3 164.94 L187.67 164.19 L188.03 165 L188.4 165.64 L188.77 165.02 L189.13 164.29 L189.5 165.36 L189.87 165.15 L190.24 165.46 L190.6 165.48 L190.97 161.61 L191.34 165.75 L191.7 165 L192.07 166.09 L192.44 165.83 L192.8 166.41 L193.17 166.16 L193.54 166.5 L193.91 163.35 L194.27 167.92 L194.64 167.99 L194.64 217.44 L194.27 213.87 L193.91 214.32 L193.54 214.95 L193.17 216.45 L192.8 213.7 L192.44 215.16 L192.07 214.87 L191.7 215.3 L191.34 215.36 L190.97 214.03 L190.6 214.07 L190.24 219.36 L189.87 215.49 L189.5 215.54 L189.13 214.73 L188.77 218.18 L188.4 218.97 L188.03 214.7 L187.67 217.86 L187.3 214.64 L186.93 215.21 L186.57 214.99 L186.2 218.82 L185.83 215.28 L185.46 215.09 L185.1 214.93 L184.73 217.37 L184.36 215.31 L184 214.67 L183.63 214.28 L183.26 214.57 L182.89 214.12 L182.53 214.09 L182.16 213.72 L181.79 214.66 L181.43 213.69 L181.06 214.1 L180.69 213.86 L180.33 213.88 L179.96 217.8 L179.59 213.84 L179.22 213.74 L178.86 213.14 L178.49 217.19 L178.12 212.48 L177.76 212.83 L177.39 212.64 L177.02 216.66 L176.66 212.05 L176.29 211.96 L175.92 215.12 L175.55 212.36 L175.19 212.23 L174.82 212.91 L174.45 212.45 L174.09 212.02 L173.72 212.01 L173.35 213.69 L172.98 211.63 L172.62 212.29 L172.25 211.92 L171.88 211.04 L171.52 212.11 L171.15 211.96 L170.78 215.95 L170.42 213.43 L170.05 210.58 L169.68 211.51 L169.31 211.11 L168.95 210.43 L168.58 210.2 L168.21 212.85 L167.85 210.03 L167.48 214.45 L167.11 209.65 L166.74 210.78 L166.38 210.58 L166.01 210.31 L165.64 211.57 L165.28 214.13 L164.91 210.3 L164.54 209.05 L164.18 209.97 L163.81 210.09 L163.44 209.84 L163.07 208.64 L162.71 211.25 L162.34 208.21 L161.97 208.67 L161.61 208.07 L161.24 212.35 L160.87 207.54 L160.51 208.11 L160.14 208.46 L159.77 210.51 L159.4 208.04 L159.04 206.96 L158.67 211.53 L158.3 207.42 L157.94 207.66 L157.57 206.8 L157.2 206.5 L156.83 210.42 L156.47 207.49 L156.1 205.97 L155.73 206.12 L155.37 208.01 L155 206.85 L154.63 208.11 L154.27 206.14 L153.9 208.15 L153.53 204.94 L153.16 205.56 L152.8 205.08 L152.43 205.86 L152.06 204.73 L151.7 205.39 L151.33 209.23 L150.96 204.24 L150.6 208.9 L150.23 206.82 L149.86 203.89 L149.49 203.42 L149.13 204.84 L148.76 208.5 L148.39 206.53 L148.03 207.61 L147.66 202.6 L147.29 206.33 L146.92 202.63 L146.56 202.61 L146.19 203.33 L145.82 203.25 L145.46 203.56 L145.09 202.87 L144.72 203.47 L144.36 202.73 L143.99 202.56 L143.62 202.84 L143.25 202.43 L142.89 202.21 L142.52 202.2 L142.15 202.26 L141.79 202.18 L141.42 202.24 L141.05 202.64 L140.69 202.25 L140.32 202.73 L139.95 202.02 L139.58 202.05 L139.22 202.16 L138.85 202.54 L138.48 202.45 L138.12 202.42 L137.75 201.86 L137.38 201.83 L137.01 201.81 L136.65 202.34 L136.28 201.9 L135.91 201.77 L135.55 201.69 L135.18 201.85 L134.81 201.62 L134.45 201.62 L134.08 201.62 L133.71 201.97 L133.34 201.58 L132.98 201.48 L132.61 201.6 L132.24 201.51 L131.88 201.39 L131.51 201.6 L131.14 201.33 L130.78 201.31 L130.41 201.35 L130.04 201.9 L129.67 201.33 L129.31 201.42 L128.94 201.16 L128.57 201.32 L128.21 201.28 L127.84 201.14 L127.47 201.51 L127.1 201.03 L126.74 201 L126.37 201.2 L126 201.04 L125.64 201.35 L125.27 201.38 L124.9 200.94 L124.54 200.83 L124.17 200.88 L123.8 201 L123.43 200.76 L123.07 200.82 L122.7 201.22 L122.33 200.9 L121.97 200.69 L121.6 200.66 L121.23 200.63 L120.86 200.56 L120.5 200.59 L120.13 200.5 L119.76 200.52 L119.4 200.57 L119.03 200.73 L118.66 200.92 L118.3 200.46 L117.93 200.31 L117.56 200.39 L117.19 200.34 L116.83 200.74 L116.46 200.12 L116.09 200.75 L115.73 200.09 L115.36 199.93 L114.99 200.42 L114.63 199.89 L114.26 199.82 L113.89 199.83 L113.52 199.8 L113.16 200.12 L112.79 200.01 L112.42 200.33 L112.06 200.25 L111.69 199.58 L111.32 199.5 L110.95 199.89 L110.59 199.36 L110.22 199.84 L109.85 199.41 L109.49 199.47 L109.12 199.3 L108.75 199.48 L108.39 199.24 L108.02 199.37 L107.65 199.29 L107.28 199.24 L106.92 199.41 L106.55 199.26 L106.18 199.18 L105.82 199.35 L105.45 199.19 L105.08 199.3 L104.72 199.21 L104.35 199.25 L103.98 199.57 L103.61 199.23 L103.25 199.28 L102.88 199.1 L102.51 199.55 L102.15 199.24 L101.78 199.17 L101.41 199.11 L101.04 199.52 L100.68 199.18 L100.31 199.04 L99.94 199.19 L99.58 199.52 L99.21 199.19 L98.84 199.21 L98.48 199.12 L98.11 199.14 L97.74 199.6 L97.37 199.05 L97.01 199.12 L96.64 199.4 L96.27 199.04 L95.91 199.06 L95.54 199.02 L95.17 199.16 L94.81 199.15 L94.44 199.44 L94.07 199.06 L93.7 198.92 L93.34 198.9 L92.97 199.02 L92.6 199.1 L92.24 199.05 L91.87 198.86 L91.5 199.41 L91.13 199.18 L90.77 198.88 L90.4 199.24 L90.03 199.24 L89.67 199.01 L89.3 198.99 L88.93 198.96 L88.57 199.28 L88.2 198.92 L87.83 198.8 L87.46 198.76 L87.1 198.78 L86.73 198.96 L86.36 198.78 L86 198.69 L85.63 198.76 L85.26 198.88 L84.9 198.9 L84.53 198.69 L84.16 198.87 L83.79 198.69 L83.43 198.66 L83.06 198.68 L82.69 198.85 L82.33 198.77 L81.96 198.7 L81.59 198.71 L81.22 198.71 L80.86 198.69 L80.49 198.67 L80.12 198.98 L79.76 198.67 L79.39 198.76 L79.02 198.75 L78.66 198.66 L78.29 198.56 L77.92 198.74 L77.55 198.49 L77.19 198.65 L76.82 199.16 L76.45 198.51 L76.09 198.56 L75.72 198.65 L75.35 198.64 L74.98 198.64 L74.62 199.15 L74.25 198.48 L73.88 198.66 L73.52 198.58 L73.15 198.4 L72.78 198.58 L72.42 199.14 L72.05 198.57 L71.68 198.46 L71.31 199.12 L70.95 198.38 L70.58 198.38 L70.21 198.36 L69.85 199.09 L69.48 198.82 L69.11 198.53 L68.75 198.72 L68.38 198.72 L68.01 198.45 L67.64 198.48 L67.28 198.28 L66.91 198.44 L66.54 198.36 L66.18 198.8 L65.81 198.28 L65.44 198.34 L65.07 198.45 L64.71 198.93 L64.34 198.88 L63.97 198.32 L63.61 198.26 L63.24 198.36 L62.87 198.42 L62.51 198.32 L62.14 198.31 L61.77 198.28 L61.4 198.17 L61.04 198.36 L60.67 198.31 L60.3 198.27 L59.94 198.56 L59.57 198.2 L59.2 198.79 L58.84 198.57 L58.47 198.18 L58.1 198.13 L57.73 198.09 L57.37 198.19 L57 198.44Z" fill="#4f9f9d"/>
<path d="M57 186.02 L64.34 189.07 L286.4 189 L515.8 188.83 L515.8 195.42 L286.4 194.45 L64.34 194.45 L57 197.5Z" fill="#fb8f1e"/>
<path d="M348.2 187V197" stroke="#fff" stroke-width="0.8" opacity="0.85"/>
<rect x="57" y="142.3" width="458.8" height="97.7" fill="none" stroke="#333" stroke-width="1.1"/>
<path d="M57 240h3.6M57 215.57h3.6M57 191.15h3.6M57 166.73h3.6M57 142.3h3.6M57 227.79h2M57 203.36h2M57 178.94h2M57 154.51h2" stroke="#333" stroke-width="1" fill="none"/>
<path d="M57 240v-3.6M171.7 240v-3.6M286.4 240v-3.6M401.1 240v-3.6M515.8 240v-3.6M114.35 240v-2M229.05 240v-2M343.75 240v-2M458.45 240v-2" stroke="#333" stroke-width="1" fill="none"/>
<text x="53.6" y="145.9" font-size="10.6" text-anchor="end" fill="#111" color="#111" >0.2</text>
<text x="53.6" y="170.33" font-size="10.6" text-anchor="end" fill="#111" color="#111" >0.1</text>
<text x="53.6" y="194.75" font-size="10.6" text-anchor="end" fill="#111" color="#111" >0.0</text>
<text x="53.6" y="219.17" font-size="10.6" text-anchor="end" fill="#111" color="#111" >-0.1</text>
<text x="53.6" y="243.6" font-size="10.6" text-anchor="end" fill="#111" color="#111" >-0.2</text>
<text x="57" y="254.6" font-size="10.4" text-anchor="middle" fill="#111" color="#111" >0</text>
<text x="171.7" y="254.6" font-size="10.4" text-anchor="middle" fill="#111" color="#111" >500</text>
<text x="286.4" y="254.6" font-size="10.4" text-anchor="middle" fill="#111" color="#111" >1000</text>
<text x="401.1" y="254.6" font-size="10.4" text-anchor="middle" fill="#111" color="#111" >1500</text>
<text x="515.8" y="254.6" font-size="10.4" text-anchor="middle" fill="#111" color="#111" >2000</text>
<text x="287.9" y="268.6" font-size="12.7" text-anchor="middle" fill="#111" color="#111" >Time (h)</text>
<text x="33.2" y="188.2" font-size="13.2" text-anchor="middle" fill="#111" color="#111" transform="rotate(-90 33.2 188.2)">Voltage (V)</text>
<text x="79" y="231.5" font-size="11.2" text-anchor="start" fill="#111" color="#111" >Current density: 1 mA cm<tspan dy="-4.5" font-size="7">-2</tspan></text>
<text x="217.7" y="231.5" font-size="11.2" text-anchor="start" fill="#111" color="#111" >Capacity: 1 mAh cm<tspan dy="-4.5" font-size="7">-2</tspan></text>
<path d="M435.8 151.4H461" stroke="#f8a458" stroke-width="1.05"/><path d="M435.8 164.6H461" stroke="#58a9a2" stroke-width="1.05"/>
<text x="463" y="154.8" font-size="11.4" text-anchor="start" fill="#111" color="#111" >MF-Li</text>
<text x="463" y="168.6" font-size="11.4" text-anchor="start" fill="#111" color="#111" >Pristine Li</text>
<text x="33" y="138.4" font-size="21" text-anchor="middle" fill="#000" color="#000" style="stroke-width:0.3px">e</text>
<path d="M54.37 314.03 L54.37 321.69 L67.67 321.69 L67.67 314.03 L80.97 314.03 L80.97 321.69 L94.27 321.69 L94.27 314.03 L107.57 314.03 L107.57 321.69 L120.87 321.69 L120.87 314.03 L134.17 314.03 L134.17 321.69 L147.47 321.69 L147.47 314.03 L160.77 314.03 L160.77 321.69 L174.07 321.69 L174.07 314.03 L187.37 314.03 L187.37 321.69 L200.67 321.69" fill="none" stroke="#f8a64e" stroke-width="1.1" stroke-linejoin="round" clip-path="url(#cf1)"/>
<path d="M43.06 308.64 L46.39 309.47 L49.71 309.26 L52.37 307.39 L54.37 304.7 L54.37 326.05 L56.36 325.63 L59.69 325.22 L63.01 325.63 L65.67 327.29 L67.67 330.19 L67.67 307.81 L69.66 308.64 L72.99 309.47 L76.31 309.26 L78.97 307.39 L80.97 304.7 L80.97 326.05 L82.96 325.63 L86.29 325.22 L89.61 325.63 L92.27 327.29 L94.27 330.19 L94.27 307.81 L96.26 308.64 L99.59 309.47 L102.91 309.26 L105.57 307.39 L107.57 304.7 L107.57 326.05 L109.56 325.63 L112.89 325.22 L116.21 325.63 L118.87 327.29 L120.87 330.19 L120.87 307.81 L122.86 308.64 L126.19 309.47 L129.51 309.26 L132.17 307.39 L134.17 304.7 L134.17 326.05 L136.16 325.63 L139.49 325.22 L142.81 325.63 L145.47 327.29 L147.47 330.19 L147.47 307.81 L149.46 308.64 L152.79 309.47 L156.11 309.26 L158.77 307.39 L160.77 304.7 L160.77 326.05 L162.76 325.63 L166.09 325.22 L169.41 325.63 L172.07 327.29 L174.07 330.19 L174.07 307.81 L176.06 308.64 L179.39 309.47 L182.71 309.26 L185.37 307.39 L187.37 304.7 L187.37 326.05 L189.36 325.63 L192.69 325.22 L196.01 325.63 L198.67 327.29 L200.67 330.19" fill="none" stroke="#34a09a" stroke-width="1.2" stroke-linejoin="round" clip-path="url(#cf1)"/>
<rect x="55.3" y="276.1" width="133" height="82.9" fill="none" stroke="#333" stroke-width="1.1"/>
<path d="M55.3 359h2.8M55.3 338.28h2.8M55.3 317.55h2.8M55.3 296.82h2.8M55.3 276.1h2.8" stroke="#333" stroke-width="1" fill="none"/>
<path d="M55.3 359v-2.8M121.8 359v-2.8M188.3 359v-2.8" stroke="#333" stroke-width="1" fill="none"/>
<text x="52.2" y="279.5" font-size="9.5" text-anchor="end" fill="#111" color="#111" >0.10</text>
<text x="52.2" y="300.22" font-size="9.5" text-anchor="end" fill="#111" color="#111" >0.05</text>
<text x="52.2" y="320.95" font-size="9.5" text-anchor="end" fill="#111" color="#111" >0.00</text>
<text x="52.2" y="341.68" font-size="9.5" text-anchor="end" fill="#111" color="#111" >-0.05</text>
<text x="52.2" y="362.4" font-size="9.5" text-anchor="end" fill="#111" color="#111" >-0.10</text>
<text x="55.3" y="369.2" font-size="9.6" text-anchor="middle" fill="#111" color="#111" >90</text>
<text x="121.8" y="369.2" font-size="9.6" text-anchor="middle" fill="#111" color="#111" >95</text>
<text x="188.3" y="369.2" font-size="9.6" text-anchor="middle" fill="#111" color="#111" >100</text>
<text x="121.5" y="378.3" font-size="11.6" text-anchor="middle" fill="#111" color="#111" >Time (h)</text>
<text x="29.3" y="313.8" font-size="12.2" text-anchor="middle" fill="#111" color="#111" transform="rotate(-90 29.3 313.8)">Voltage (V)</text>
<text x="29" y="275.2" font-size="21" text-anchor="middle" fill="#000" color="#000" style="stroke-width:0.3px">f</text>
<path d="M221.43 312.4 L221.43 320.17 L233.87 320.17 L233.87 312.4 L246.31 312.4 L246.31 320.17 L258.75 320.17 L258.75 312.4 L271.19 312.4 L271.19 320.17 L283.63 320.17 L283.63 312.4 L296.07 312.4 L296.07 320.17 L308.51 320.17 L308.51 312.4 L320.95 312.4 L320.95 320.17 L333.39 320.17 L333.39 312.4 L345.83 312.4 L345.83 320.17 L358.27 320.17" fill="none" stroke="#f8a64e" stroke-width="1.1" stroke-linejoin="round" clip-path="url(#cf2)"/>
<path d="M211.66 301.63 L212.55 298.89 L213.44 297.59 L214.33 295.83 L215.21 296.44 L216.1 293.63 L216.99 293.92 L217.88 293.01 L218.77 290.9 L219.66 292.32 L220.55 289.5 L220.56 289.6 L221.43 289.16 L221.43 340.19 L222.06 339.06 L222.47 336.1 L223.51 336.52 L224.54 335.41 L225.58 334.54 L226.62 333.19 L227.65 334.09 L228.69 332.87 L229.73 332.33 L230.76 331.41 L231.8 330.12 L232.84 331.06 L233.87 329.98 L233.87 304.47 L234.76 301.94 L235.65 301.8 L236.54 300.32 L237.43 299.82 L238.32 298.07 L239.21 295.71 L240.09 295.55 L240.98 294.15 L241.87 294.42 L242.76 293.47 L243.65 292.55 L244.54 290.8 L245.43 289.72 L245.44 289.16 L246.31 289.16 L246.31 340.19 L246.94 339.88 L247.35 336.49 L248.39 335.09 L249.42 335.22 L250.46 335.85 L251.5 334.48 L252.53 334.66 L253.57 333.55 L254.61 330.96 L255.64 331.26 L256.68 330.58 L257.72 329.7 L258.75 329.98 L258.75 304.47 L259.64 301.72 L260.53 301.23 L261.42 300.01 L262.31 298.84 L263.2 297.55 L264.09 296.75 L264.97 295.48 L265.86 295.74 L266.75 293.49 L267.64 293.08 L268.53 291.28 L269.42 292.14 L270.31 290.97 L270.32 291.22 L271.19 289.16 L271.19 340.19 L271.82 337.86 L272.23 335.96 L273.27 335.72 L274.3 335.7 L275.34 333.73 L276.38 333.15 L277.41 333.13 L278.45 333.36 L279.49 332.66 L280.52 331.77 L281.56 331.51 L282.6 330.68 L283.63 329.98 L283.63 304.47 L284.52 302.45 L285.41 300.35 L286.3 301.56 L287.19 299 L288.08 299.35 L288.97 298.07 L289.85 295.12 L290.74 294.75 L291.63 292.8 L292.52 293.11 L293.41 293.33 L294.3 291.35 L295.19 289.84 L295.2 288.74 L296.07 289.16 L296.07 340.19 L296.7 337.29 L297.11 337.17 L298.15 336.39 L299.18 336.44 L300.22 334.22 L301.26 334.73 L302.29 334.26 L303.33 334.02 L304.37 333.47 L305.4 331.05 L306.44 332.05 L307.48 329.21 L308.51 329.98 L308.51 304.47 L309.4 303.97 L310.29 300.52 L311.18 301.35 L312.07 300.51 L312.96 297.48 L313.85 297.73 L314.73 295.33 L315.62 295.81 L316.51 295.19 L317.4 292.21 L318.29 291.41 L319.18 290.06 L320.07 289.46 L320.08 291.09 L320.95 289.16 L320.95 340.19 L321.58 338.26 L321.99 336.52 L323.03 336.26 L324.06 334.16 L325.1 335.29 L326.14 332.66 L327.17 332.7 L328.21 334.04 L329.25 333.45 L330.28 331.14 L331.32 330.14 L332.36 331.65 L333.39 329.98 L333.39 304.47 L334.28 303.36 L335.17 300.91 L336.06 301.25 L336.95 298.2 L337.84 298.13 L338.73 298.23 L339.61 296.34 L340.5 294.75 L341.39 294.12 L342.28 292.48 L343.17 292.97 L344.06 290.22 L344.95 290.47 L344.96 289.55 L345.83 289.16 L345.83 340.19 L346.46 338.26 L346.87 337.32 L347.91 336.47 L348.94 334.56 L349.98 333.39 L351.02 333.15 L352.05 333.12 L353.09 333.26 L354.13 333.32 L355.16 330.25 L356.2 330.46 L357.24 329.59 L358.27 329.98" fill="none" stroke="#34a09a" stroke-width="1.2" stroke-linejoin="round" clip-path="url(#cf2)"/>
<rect x="223.3" y="276.6" width="124.4" height="78.5" fill="none" stroke="#333" stroke-width="1.1"/>
<path d="M223.3 355.1h2.8M223.3 335.48h2.8M223.3 315.85h2.8M223.3 296.23h2.8M223.3 276.6h2.8" stroke="#333" stroke-width="1" fill="none"/>
<path d="M223.3 355.1v-2.8M285.5 355.1v-2.8M347.7 355.1v-2.8" stroke="#333" stroke-width="1" fill="none"/>
<text x="220.2" y="280" font-size="9.5" text-anchor="end" fill="#111" color="#111" >0.10</text>
<text x="220.2" y="299.62" font-size="9.5" text-anchor="end" fill="#111" color="#111" >0.05</text>
<text x="220.2" y="319.25" font-size="9.5" text-anchor="end" fill="#111" color="#111" >0.00</text>
<text x="220.2" y="338.88" font-size="9.5" text-anchor="end" fill="#111" color="#111" >-0.05</text>
<text x="220.2" y="358.5" font-size="9.5" text-anchor="end" fill="#111" color="#111" >-0.10</text>
<text x="223.3" y="367.5" font-size="9.6" text-anchor="middle" fill="#111" color="#111" >350</text>
<text x="285.5" y="367.5" font-size="9.6" text-anchor="middle" fill="#111" color="#111" >355</text>
<text x="347.7" y="367.5" font-size="9.6" text-anchor="middle" fill="#111" color="#111" >360</text>
<text x="285.9" y="378.3" font-size="11.6" text-anchor="middle" fill="#111" color="#111" >Time (h)</text>
<text x="198.6" y="312.5" font-size="12.2" text-anchor="middle" fill="#111" color="#111" transform="rotate(-90 198.6 312.5)">Voltage (V)</text>
<path d="M375.15 311.49 L375.15 320.67 L379.06 321.08 L384.27 321.4 L386.87 321.61 L388.17 321.89 L388.17 312.75 L392.08 312.35 L397.29 311.94 L399.89 311.69 L401.19 311.49 L401.19 320.67 L405.1 321.08 L410.31 321.4 L412.91 321.61 L414.21 321.89 L414.21 312.75 L418.12 312.35 L423.33 311.94 L425.93 311.69 L427.23 311.49 L427.23 320.67 L431.14 321.08 L436.35 321.4 L438.95 321.61 L440.25 321.89 L440.25 312.75 L444.16 312.35 L449.37 311.94 L451.97 311.69 L453.27 311.49 L453.27 320.67 L457.18 321.08 L462.39 321.4 L464.99 321.61 L466.29 321.89 L466.29 312.75 L470.2 312.35 L475.41 311.94 L478.01 311.69 L479.31 311.49 L479.31 320.67 L483.22 321.08 L488.43 321.4 L491.03 321.61 L492.33 321.89 L492.33 312.75 L496.24 312.35 L501.45 311.94 L504.05 311.69 L505.35 311.49 L505.35 320.67 L509.26 321.08 L514.47 321.4 L517.07 321.61 L518.37 321.89" fill="none" stroke="#f9962c" stroke-width="1.25" stroke-linejoin="round" clip-path="url(#cf3)"/>
<rect x="387" y="275.3" width="130.2" height="81.6" fill="none" stroke="#333" stroke-width="1.1"/>
<path d="M387 356.9h2.8M387 336.5h2.8M387 316.1h2.8M387 295.7h2.8M387 275.3h2.8" stroke="#333" stroke-width="1" fill="none"/>
<path d="M387 356.9v-2.8M452.1 356.9v-2.8M517.2 356.9v-2.8" stroke="#333" stroke-width="1" fill="none"/>
<text x="383.9" y="278.7" font-size="9.5" text-anchor="end" fill="#111" color="#111" >0.10</text>
<text x="383.9" y="299.1" font-size="9.5" text-anchor="end" fill="#111" color="#111" >0.05</text>
<text x="383.9" y="319.5" font-size="9.5" text-anchor="end" fill="#111" color="#111" >0.00</text>
<text x="383.9" y="339.9" font-size="9.5" text-anchor="end" fill="#111" color="#111" >-0.05</text>
<text x="383.9" y="360.3" font-size="9.5" text-anchor="end" fill="#111" color="#111" >-0.10</text>
<text x="387" y="369.4" font-size="9.6" text-anchor="middle" fill="#111" color="#111" >1980</text>
<text x="452.1" y="369.4" font-size="9.6" text-anchor="middle" fill="#111" color="#111" >1985</text>
<text x="517.2" y="369.4" font-size="9.6" text-anchor="middle" fill="#111" color="#111" >1990</text>
<text x="452" y="378.3" font-size="11.6" text-anchor="middle" fill="#111" color="#111" >Time (h)</text>
<text x="361" y="312.5" font-size="12.2" text-anchor="middle" fill="#111" color="#111" transform="rotate(-90 361.0 312.5)">Voltage (V)</text>
<text x="458.5" y="305.3" font-size="11.8" text-anchor="start" fill="#111" color="#111" >~12.0 mV</text>
<path d="M55.9 441.58 L55.9 423.72 L56.67 421.49 L57.83 421.49 L58.98 421.23 L59.75 422.94 L59.75 422.94 L59.75 441.58 L60.53 443.81 L62.84 443.81 L63.61 442.14 L63.61 441.58 L63.61 423.39 L64.38 421.07 L65.54 421.07 L66.69 421.23 L67.46 422.94 L67.46 422.94 L67.46 441.58 L68.23 443.81 L70.55 443.81 L71.32 442.14 L71.32 441.58 L71.32 422.93 L72.09 420.5 L73.25 420.5 L74.4 421.23 L75.17 422.94 L75.17 422.94 L75.17 441.58 L75.94 443.81 L78.26 443.81 L79.03 442.14 L79.03 441.58 L79.03 423.11 L79.8 420.73 L80.95 420.73 L82.11 421.23 L82.88 422.94 L82.88 422.94 L82.88 441.58 L83.65 443.81 L85.97 443.81 L86.74 442.14 L86.74 441.58 L86.74 423.39 L87.51 421.08 L88.66 421.08 L89.82 421.23 L90.59 422.94 L90.59 422.94 L90.59 441.58 L91.36 443.81 L93.67 443.81 L94.44 442.14 L94.44 444.02 L94.44 419.89 L95.22 416.7 L96.37 416.7 L97.53 421.74 L98.3 423.38 L98.3 423.38 L98.3 444.02 L99.07 446.86 L101.38 446.86 L102.15 444.73 L102.15 444.02 L102.15 424.01 L102.92 421.85 L104.08 421.85 L105.24 421.74 L106.01 423.38 L106.01 423.38 L106.01 444.02 L106.78 446.86 L109.09 446.86 L109.86 444.73 L109.86 444.02 L109.86 423.45 L110.63 421.15 L111.79 421.15 L112.95 421.74 L113.72 423.38 L113.72 423.38 L113.72 444.02 L114.49 446.86 L116.8 446.86 L117.57 444.73 L117.57 444.02 L117.57 424.07 L118.34 421.93 L119.5 421.93 L120.66 421.74 L121.43 423.38 L121.43 423.38 L121.43 444.02 L122.2 446.86 L124.51 446.86 L125.28 444.73 L125.28 444.02 L125.28 423.7 L126.05 421.46 L127.21 421.46 L128.36 421.74 L129.14 423.38 L129.14 423.38 L129.14 444.02 L129.91 446.86 L132.22 446.86 L132.99 444.73 L132.99 443.41 L132.99 412.7 L134.92 421.99 L136.54 419.2 L136.84 419.2 L136.84 419.2 L136.84 437.47 L137.15 443.14 L138 447.71 L138.23 443.41 L140.7 443.14 L140.7 443.41 L140.7 418.6 L142.63 421.99 L144.25 419.2 L144.55 419.2 L144.55 419.2 L144.55 437.47 L144.86 443.14 L145.71 447.71 L145.94 443.41 L148.41 443.14 L148.41 443.41 L148.41 418.73 L150.34 421.99 L151.95 419.2 L152.26 419.2 L152.26 419.2 L152.26 437.47 L152.57 443.14 L153.42 447.71 L153.65 443.41 L156.12 443.14 L156.12 443.41 L156.12 419.53 L158.04 421.99 L159.66 419.2 L159.97 419.2 L159.97 419.2 L159.97 437.47 L160.28 443.14 L161.13 447.71 L161.36 443.41 L163.83 443.14 L163.83 443.41 L163.83 419.96 L165.75 421.99 L167.37 419.2 L167.68 419.2 L167.68 419.2 L167.68 437.47 L167.99 443.14 L168.84 447.71 L169.07 443.41 L171.53 443.14 L171.53 442.8 L171.53 417.79 L173.46 422.25 L175.08 419.45 L175.39 419.45 L175.39 419.45 L175.39 437.47 L175.7 442.55 L176.55 446.86 L176.78 442.8 L179.24 442.55 L179.24 442.8 L179.24 419.57 L181.17 422.25 L182.79 419.45 L183.1 419.45 L183.1 419.45 L183.1 437.47 L183.41 442.55 L184.25 446.86 L184.49 442.8 L186.95 442.55 L186.95 442.8 L186.95 419.32 L188.88 422.25 L190.5 419.45 L190.81 419.45 L190.81 419.45 L190.81 437.47 L191.12 442.55 L191.96 446.86 L192.2 442.8 L194.66 442.55 L194.66 442.8 L194.66 418.97 L196.59 422.25 L198.21 419.45 L198.52 419.45 L198.52 419.45 L198.52 437.47 L198.82 442.55 L199.67 446.86 L199.9 442.8 L202.37 442.55 L202.37 442.8 L202.37 418.87 L204.3 422.25 L205.92 419.45 L206.23 419.45 L206.23 419.45 L206.23 437.47 L206.53 442.55 L207.38 446.86 L207.61 442.8 L210.08 442.55 L210.08 439.25 L210.08 425.29 L210.47 423.26 L213.36 416.6 L213.63 417.87 L213.93 417.11 L213.93 417.11 L213.93 439.25 L214.09 444.07 L217.63 444.07 L217.79 439.25 L217.79 439.25 L217.79 425.29 L218.17 423.26 L221.07 416.66 L221.34 417.93 L221.64 417.17 L221.64 417.17 L221.64 439.25 L221.8 444.07 L225.34 444.07 L225.5 439.25 L225.5 439.25 L225.5 425.29 L225.88 423.26 L228.77 416.7 L229.04 417.97 L229.35 417.2 L229.35 417.2 L229.35 439.25 L229.51 444.07 L233.05 444.07 L233.21 439.25 L233.21 439.25 L233.21 425.29 L233.59 423.26 L236.48 416.61 L236.75 417.88 L237.06 417.12 L237.06 417.12 L237.06 439.25 L237.22 444.07 L240.76 444.07 L240.92 439.25 L240.92 439.25 L240.92 425.29 L241.3 423.26 L244.19 417.06 L244.46 418.33 L244.77 417.57 L244.77 417.57 L244.77 439.25 L244.92 444.07 L248.47 444.07 L248.62 439.25 L248.62 439.25 L248.62 424.53 L249.01 422.5 L251.9 414.98 L252.17 416.25 L252.48 415.49 L252.48 415.49 L252.48 439.25 L252.63 444.07 L256.18 444.07 L256.33 439.25 L256.33 439.25 L256.33 424.53 L256.72 422.5 L259.61 415.37 L259.88 416.64 L260.19 415.88 L260.19 415.88 L260.19 439.25 L260.34 444.07 L263.89 444.07 L264.04 439.25 L264.04 439.25 L264.04 424.53 L264.43 422.5 L267.32 415.44 L267.59 416.7 L267.9 415.94 L267.9 415.94 L267.9 439.25 L268.05 444.07 L271.6 444.07 L271.75 439.25 L271.75 439.25 L271.75 424.53 L272.14 422.5 L275.03 415.62 L275.3 416.89 L275.61 416.13 L275.61 416.13 L275.61 439.25 L275.76 444.07 L279.31 444.07 L279.46 439.25 L279.46 439.25 L279.46 424.53 L279.85 422.5 L282.74 415.27 L283.01 416.54 L283.32 415.78 L283.32 415.78 L283.32 439.25 L283.47 444.07 L287.02 444.07 L287.17 439.25 L287.17 440.01 L287.17 425.04 L287.56 423.01 L290.45 414.61 L290.72 415.88 L291.02 415.12 L291.02 415.12 L291.02 440.01 L291.18 444.83 L294.72 444.83 L294.88 440.01 L294.88 440.01 L294.88 425.04 L295.26 423.01 L298.16 415.52 L298.43 416.79 L298.73 416.03 L298.73 416.03 L298.73 440.01 L298.89 444.83 L302.43 444.83 L302.59 440.01 L302.59 440.01 L302.59 425.04 L302.97 423.01 L305.86 414.81 L306.13 416.07 L306.44 415.31 L306.44 415.31 L306.44 440.01 L306.6 444.83 L310.14 444.83 L310.3 440.01 L310.3 440.01 L310.3 425.04 L310.68 423.01 L313.57 414.43 L313.84 415.7 L314.15 414.94 L314.15 414.94 L314.15 440.01 L314.31 444.83 L317.85 444.83 L318.01 440.01 L318.01 440.01 L318.01 425.04 L318.39 423.01 L321.28 415.34 L321.55 416.61 L321.86 415.85 L321.86 415.85 L321.86 440.01 L322.01 444.83 L325.56 444.83 L325.71 440.01 L325.71 440.77 L325.71 422.75 L326.1 420.72 L328.99 411.97 L329.26 413.24 L329.57 412.48 L329.57 412.48 L329.57 440.77 L329.72 447.37 L333.27 447.37 L333.42 440.77 L333.42 440.77 L333.42 422.75 L333.81 420.72 L336.7 413.22 L336.97 414.48 L337.28 413.72 L337.28 413.72 L337.28 440.77 L337.43 447.37 L340.98 447.37 L341.13 440.77 L341.13 440.77 L341.13 422.75 L341.52 420.72 L344.41 414.28 L344.68 415.55 L344.99 414.78 L344.99 414.78 L344.99 440.77 L345.14 447.37 L348.69 447.37 L348.84 440.77 L348.84 440.77 L348.84 422.75 L349.23 420.72 L352.12 413.71 L352.39 414.98 L352.7 414.22 L352.7 414.22 L352.7 440.77 L352.85 447.37 L356.4 447.37 L356.55 440.77 L356.55 440.77 L356.55 422.75 L356.94 420.72 L359.83 413.6 L360.1 414.87 L360.41 414.11 L360.41 414.11 L360.41 440.77 L360.56 447.37 L364.11 447.37 L364.26 440.77 L364.26 441.53 L364.26 422.75 L364.65 420.72 L367.54 411.39 L367.81 412.66 L368.11 411.9 L368.11 411.9 L368.11 441.53 L368.27 448.13 L371.81 448.13 L371.97 441.53 L371.97 441.53 L371.97 422.75 L372.35 420.72 L375.25 413.05 L375.52 414.32 L375.82 413.56 L375.82 413.56 L375.82 441.53 L375.98 448.13 L379.52 448.13 L379.68 441.53 L379.68 441.53 L379.68 422.75 L380.06 420.72 L382.95 412.98 L383.22 414.25 L383.53 413.48 L383.53 413.48 L383.53 441.53 L383.69 448.13 L387.23 448.13 L387.39 441.53 L387.39 441.53 L387.39 422.75 L387.77 420.72 L390.66 412.22 L390.93 413.49 L391.24 412.73 L391.24 412.73 L391.24 441.53 L391.4 448.13 L394.94 448.13 L395.1 441.53 L395.1 441.53 L395.1 422.75 L395.48 420.72 L398.37 412.16 L398.64 413.43 L398.95 412.67 L398.95 412.67 L398.95 441.53 L399.1 448.13 L402.65 448.13 L402.8 441.53 L402.8 442.55 L402.8 414.95 L404.54 418.5 L406.47 414.95 L406.66 414.95 L406.66 414.95 L406.66 442.55 L406.85 446.45 L407.82 449.7 L408.2 445.64 L410.51 445.97 L410.51 442.55 L410.51 416.02 L412.25 419.58 L414.18 416.02 L414.37 416.02 L414.37 416.02 L414.37 442.55 L414.56 446.45 L415.52 449.7 L415.91 445.64 L418.22 445.97 L418.22 442.55 L418.22 414.93 L419.96 418.48 L421.88 414.93 L422.08 414.93 L422.08 414.93 L422.08 442.55 L422.27 446.45 L423.23 449.7 L423.62 445.64 L425.93 445.97 L425.93 442.55 L425.93 414.98 L427.67 418.53 L429.59 414.98 L429.79 414.98 L429.79 414.98 L429.79 442.55 L429.98 446.45 L430.94 449.7 L431.33 445.64 L433.64 445.97 L433.64 442.55 L433.64 415.8 L435.38 419.35 L437.3 415.8 L437.5 415.8 L437.5 415.8 L437.5 442.55 L437.69 446.45 L438.65 449.7 L439.04 445.64 L441.35 445.97 L441.35 442.29 L441.35 410.96 L443.08 414.51 L445.01 410.96 L445.2 410.96 L445.2 410.96 L445.2 442.29 L445.4 449.47 L446.36 453.43 L446.75 448.48 L449.06 448.88 L449.06 442.29 L449.06 411.24 L450.79 414.79 L452.72 411.24 L452.91 411.24 L452.91 411.24 L452.91 442.29 L453.11 449.47 L454.07 453.43 L454.46 448.48 L456.77 448.88 L456.77 442.29 L456.77 411.26 L458.5 414.81 L460.43 411.26 L460.62 411.26 L460.62 411.26 L460.62 442.29 L460.82 449.47 L461.78 453.43 L462.16 448.48 L464.48 448.88 L464.48 442.29 L464.48 411.81 L466.21 415.36 L468.14 411.81 L468.33 411.81 L468.33 411.81 L468.33 442.29 L468.52 449.47 L469.49 453.43 L469.87 448.48 L472.19 448.88 L472.19 442.29 L472.19 411.88 L473.92 415.43 L475.85 411.88 L476.04 411.88 L476.04 411.88 L476.04 442.29 L476.23 449.47 L477.2 453.43 L477.58 448.48 L479.89 448.88 L479.89 429.22 L483.75 429.22 L483.75 437.09 L487.6 437.09 L487.6 429.22 L491.46 429.22 L491.46 437.09 L495.31 437.09 L495.31 429.22 L499.17 429.22 L499.17 437.09 L503.02 437.09 L503.02 429.22 L506.88 429.22 L506.88 437.09 L510.73 437.09 L510.73 429.22 L514.59 429.22 L514.59 437.09 L518.44 437.09" fill="none" stroke="#3ea69f" stroke-width="0.9" stroke-linejoin="round" clip-path="url(#cg)"/>
<path d="M55.9 427.83 L59.75 427.83 L59.75 437.6 L63.61 437.6 L63.61 427.83 L67.46 427.83 L67.46 437.6 L71.32 437.6 L71.32 427.83 L75.17 427.83 L75.17 437.6 L79.03 437.6 L79.03 427.83 L82.88 427.83 L82.88 437.6 L86.74 437.6 L86.74 427.83 L90.59 427.83 L90.59 437.6 L94.44 437.6 L94.44 426.56 L98.3 426.56 L98.3 437.98 L102.15 437.98 L102.15 426.56 L106.01 426.56 L106.01 437.98 L109.86 437.98 L109.86 426.56 L113.72 426.56 L113.72 437.98 L117.57 437.98 L117.57 426.56 L121.43 426.56 L121.43 437.98 L125.28 437.98 L125.28 426.56 L129.14 426.56 L129.14 437.98 L132.99 437.98 L132.99 426.31 L136.84 426.31 L136.84 437.47 L140.7 437.47 L140.7 426.31 L144.55 426.31 L144.55 437.47 L148.41 437.47 L148.41 426.31 L152.26 426.31 L152.26 437.47 L156.12 437.47 L156.12 426.31 L159.97 426.31 L159.97 437.47 L163.83 437.47 L163.83 426.31 L167.68 426.31 L167.68 437.47 L171.53 437.47 L171.53 426.81 L175.39 426.81 L175.39 437.47 L179.24 437.47 L179.24 426.81 L183.1 426.81 L183.1 437.47 L186.95 437.47 L186.95 426.81 L190.81 426.81 L190.81 437.47 L194.66 437.47 L194.66 426.81 L198.52 426.81 L198.52 437.47 L202.37 437.47 L202.37 426.81 L206.23 426.81 L206.23 437.47 L210.08 437.47 L210.08 425.29 L213.93 425.29 L213.93 439.25 L217.79 439.25 L217.79 425.29 L221.64 425.29 L221.64 439.25 L225.5 439.25 L225.5 425.29 L229.35 425.29 L229.35 439.25 L233.21 439.25 L233.21 425.29 L237.06 425.29 L237.06 439.25 L240.92 439.25 L240.92 425.29 L244.77 425.29 L244.77 439.25 L248.62 439.25 L248.62 424.53 L252.48 424.53 L252.48 439.25 L256.33 439.25 L256.33 424.53 L260.19 424.53 L260.19 439.25 L264.04 439.25 L264.04 424.53 L267.9 424.53 L267.9 439.25 L271.75 439.25 L271.75 424.53 L275.61 424.53 L275.61 439.25 L279.46 439.25 L279.46 424.53 L283.32 424.53 L283.32 439.25 L287.17 439.25 L287.17 425.04 L291.02 425.04 L291.02 440.01 L294.88 440.01 L294.88 425.04 L298.73 425.04 L298.73 440.01 L302.59 440.01 L302.59 425.04 L306.44 425.04 L306.44 440.01 L310.3 440.01 L310.3 425.04 L314.15 425.04 L314.15 440.01 L318.01 440.01 L318.01 425.04 L321.86 425.04 L321.86 440.01 L325.71 440.01 L325.71 422.75 L329.57 422.75 L329.57 440.77 L333.42 440.77 L333.42 422.75 L337.28 422.75 L337.28 440.77 L341.13 440.77 L341.13 422.75 L344.99 422.75 L344.99 440.77 L348.84 440.77 L348.84 422.75 L352.7 422.75 L352.7 440.77 L356.55 440.77 L356.55 422.75 L360.41 422.75 L360.41 440.77 L364.26 440.77 L364.26 422.75 L368.11 422.75 L368.11 441.53 L371.97 441.53 L371.97 422.75 L375.82 422.75 L375.82 441.53 L379.68 441.53 L379.68 422.75 L383.53 422.75 L383.53 441.53 L387.39 441.53 L387.39 422.75 L391.24 422.75 L391.24 441.53 L395.1 441.53 L395.1 422.75 L398.95 422.75 L398.95 441.53 L402.8 441.53 L402.8 421.23 L406.66 421.23 L406.66 442.55 L410.51 442.55 L410.51 421.23 L414.37 421.23 L414.37 442.55 L418.22 442.55 L418.22 421.23 L422.08 421.23 L422.08 442.55 L425.93 442.55 L425.93 421.23 L429.79 421.23 L429.79 442.55 L433.64 442.55 L433.64 421.23 L437.5 421.23 L437.5 442.55 L441.35 442.55 L441.35 421.99 L445.2 421.99 L445.2 442.29 L449.06 442.29 L449.06 421.99 L452.91 421.99 L452.91 442.29 L456.77 442.29 L456.77 421.99 L460.62 421.99 L460.62 442.29 L464.48 442.29 L464.48 421.99 L468.33 421.99 L468.33 442.29 L472.19 442.29 L472.19 421.99 L476.04 421.99 L476.04 442.29 L479.89 442.29 L479.89 429.5 L483.75 429.5 L483.75 436.89 L487.6 436.89 L487.6 429.5 L491.46 429.5 L491.46 436.89 L495.31 436.89 L495.31 429.5 L499.17 429.5 L499.17 436.89 L503.02 436.89 L503.02 429.5 L506.88 429.5 L506.88 436.89 L510.73 436.89 L510.73 429.5 L514.59 429.5 L514.59 436.89 L518.44 436.89" fill="none" stroke="#f8a64e" stroke-width="1.0" stroke-linejoin="round" clip-path="url(#cg)"/>
<path d="M94.44 381.9V483.4M132.99 381.9V483.4M171.53 381.9V483.4M210.08 381.9V483.4M248.62 381.9V483.4M287.17 381.9V483.4M325.71 381.9V483.4M364.26 381.9V483.4M402.8 381.9V483.4M441.35 381.9V483.4M479.89 381.9V483.4" stroke="#7eaaf2" stroke-width="1" stroke-dasharray="3 1.4" fill="none"/>
<rect x="55.5" y="381.9" width="464" height="101.5" fill="none" stroke="#333" stroke-width="1.1"/>
<path d="M55.5 483.4h3.4M55.5 458.02h3.4M55.5 432.65h3.4M55.5 407.27h3.4M55.5 381.9h3.4M55.5 470.71h2M55.5 445.34h2M55.5 419.96h2M55.5 394.59h2" stroke="#333" stroke-width="1" fill="none"/>
<path d="M55.9 483.4v-3.4M210.08 483.4v-3.4M364.26 483.4v-3.4M518.44 483.4v-3.4M132.99 483.4v-2M287.17 483.4v-2M441.35 483.4v-2" stroke="#333" stroke-width="1" fill="none"/>
<text x="53.3" y="385.4" font-size="10.6" text-anchor="end" fill="#111" color="#111" >0.2</text>
<text x="53.3" y="410.77" font-size="10.6" text-anchor="end" fill="#111" color="#111" >0.1</text>
<text x="53.3" y="436.15" font-size="10.6" text-anchor="end" fill="#111" color="#111" >0.0</text>
<text x="53.3" y="461.52" font-size="10.6" text-anchor="end" fill="#111" color="#111" >-0.1</text>
<text x="53.3" y="486.9" font-size="10.6" text-anchor="end" fill="#111" color="#111" >-0.2</text>
<text x="56.5" y="496.3" font-size="10.4" text-anchor="middle" fill="#111" color="#111" >0</text>
<text x="210.68" y="496.3" font-size="10.4" text-anchor="middle" fill="#111" color="#111" >40</text>
<text x="364.86" y="496.3" font-size="10.4" text-anchor="middle" fill="#111" color="#111" >80</text>
<text x="519.04" y="496.3" font-size="10.4" text-anchor="middle" fill="#111" color="#111" >120</text>
<text x="287.3" y="507.7" font-size="12.4" text-anchor="middle" fill="#111" color="#111" >Time (h)</text>
<text x="30.2" y="429" font-size="12.9" text-anchor="middle" fill="#111" color="#111" transform="rotate(-90 30.2 429.0)">Voltage (V)</text>
<text x="27.3" y="384.3" font-size="20.5" text-anchor="middle" fill="#000" color="#000" style="stroke-width:0.3px">g</text>
<text x="75.17" y="467.5" font-size="10.6" text-anchor="middle" fill="#111" color="#111" >0.25</text>
<text x="113.72" y="467.5" font-size="10.6" text-anchor="middle" fill="#111" color="#111" >0.5</text>
<text x="152.26" y="467.5" font-size="10.6" text-anchor="middle" fill="#111" color="#111" >1.0</text>
<text x="190.81" y="467.5" font-size="10.6" text-anchor="middle" fill="#111" color="#111" >1.5</text>
<text x="229.35" y="467.5" font-size="10.6" text-anchor="middle" fill="#111" color="#111" >2.0</text>
<text x="267.9" y="467.5" font-size="10.6" text-anchor="middle" fill="#111" color="#111" >2.5</text>
<text x="306.44" y="467.5" font-size="10.6" text-anchor="middle" fill="#111" color="#111" >3.0</text>
<text x="344.99" y="467.5" font-size="10.6" text-anchor="middle" fill="#111" color="#111" >3.5</text>
<text x="383.53" y="467.5" font-size="10.6" text-anchor="middle" fill="#111" color="#111" >4.0</text>
<text x="422.08" y="467.5" font-size="10.6" text-anchor="middle" fill="#111" color="#111" >4.5</text>
<text x="460.62" y="467.5" font-size="10.6" text-anchor="middle" fill="#111" color="#111" >5.0</text>
<text x="499.17" y="467.5" font-size="10.6" text-anchor="middle" fill="#111" color="#111" >1.0</text>
<path d="M441.6 390.2H467" stroke="#f8a458" stroke-width="1.05"/><path d="M441.6 403.6H467" stroke="#3fa7a0" stroke-width="1.05"/>
<text x="468.6" y="393.6" font-size="11.2" text-anchor="start" fill="#111" color="#111" >MF-Li</text>
<text x="468.6" y="407.3" font-size="11.2" text-anchor="start" fill="#111" color="#111" >Pristine Li</text>
</svg></body></html>
